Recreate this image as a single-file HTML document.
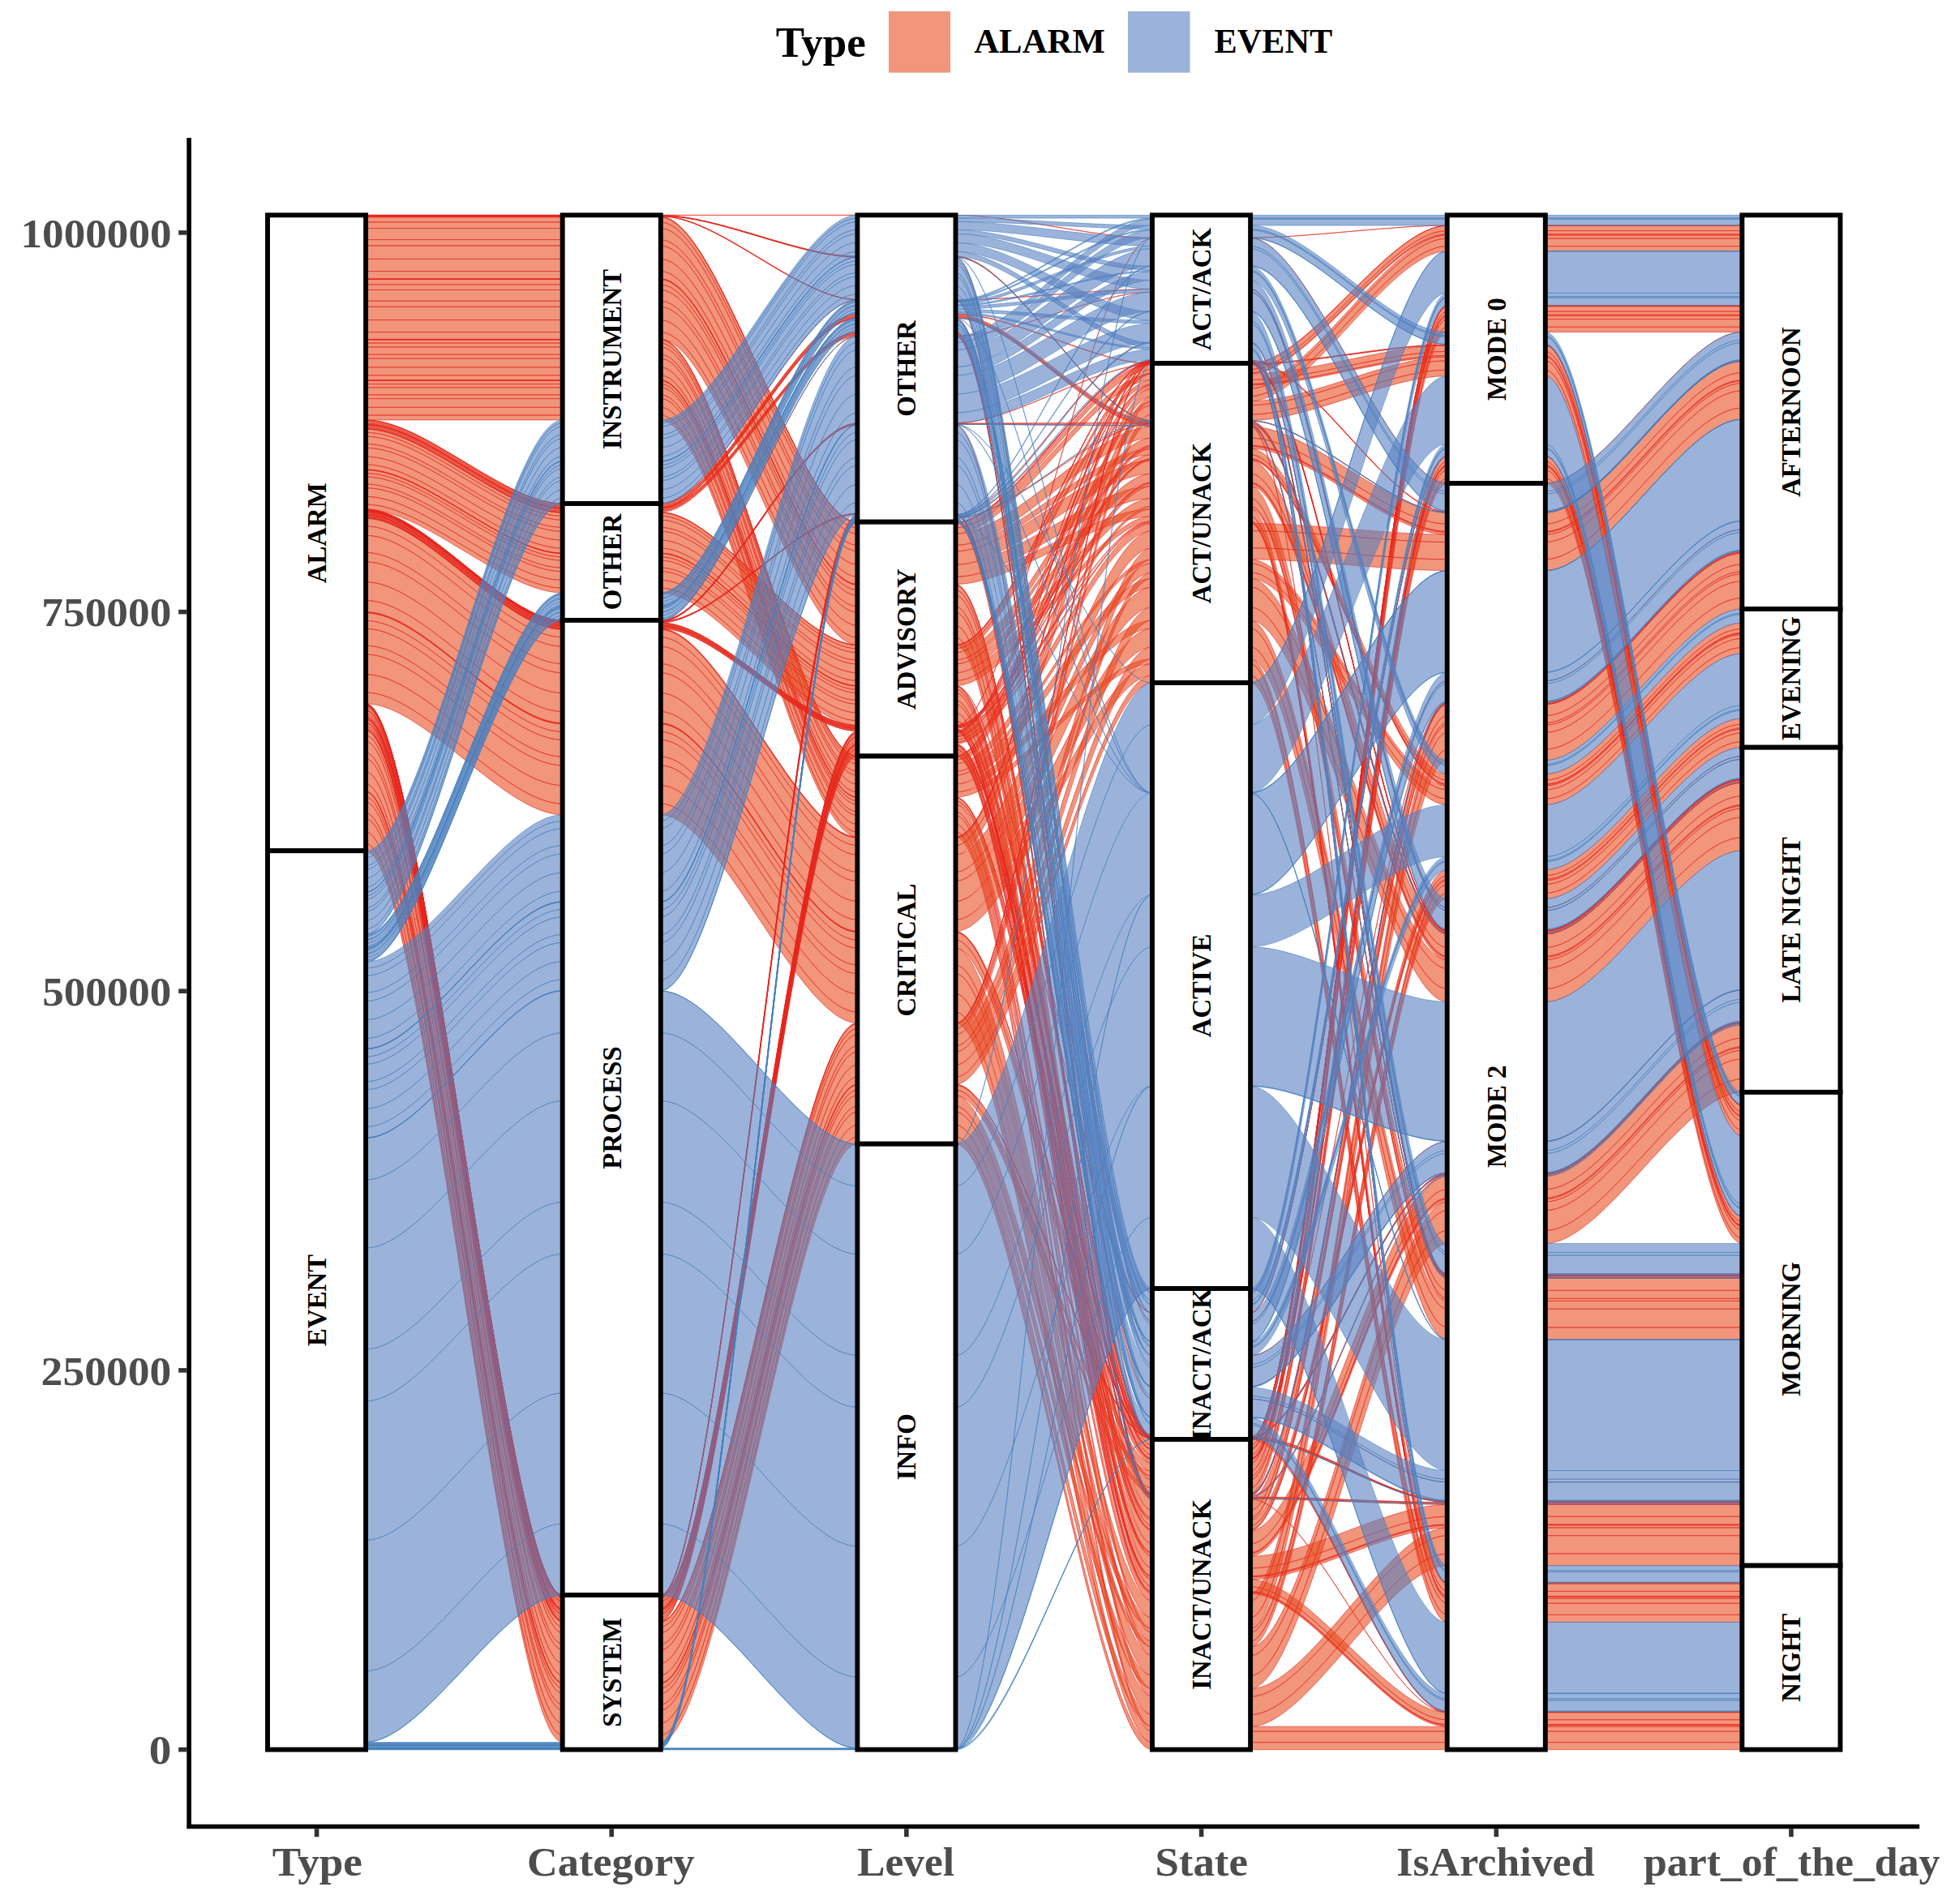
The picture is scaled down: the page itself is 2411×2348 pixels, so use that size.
<!DOCTYPE html>
<html><head><meta charset="utf-8"><title>Alluvial plot</title>
<style>
html,body{margin:0;padding:0;background:#fff;}
svg{display:block;}
text{font-family:"Liberation Serif","Times New Roman",serif;font-weight:bold;}
.a{fill:#E84E23;fill-opacity:0.6;stroke:#E6241D;stroke-width:0.6;stroke-linejoin:round;}
.e{fill:#5880C1;fill-opacity:0.6;stroke:#4682BE;stroke-width:0.6;stroke-linejoin:round;}
.s{fill:#fff;stroke:#000;stroke-width:5.9;stroke-linejoin:miter;}
.sl{font-size:32.8px;fill:#000;text-anchor:middle;}
.ax{font-size:50px;fill:#4D4D4D;}
.tk{stroke:#333;stroke-width:5.6;}
</style></head><body>
<svg width="2411" height="2348" viewBox="0 0 2411 2348">
<rect width="2411" height="2348" fill="#fff"/>
<g class="a"><path d="M451.1 265.3H693.7H814.8H1057.4H1178.5C1250 265.3 1349.5 293.5 1421 293.5H1542.1C1613.7 293.5 1713.2 596 1784.7 596H1905.8C1977.4 596 2076.8 409.4 2148.4 409.4V409.4C2076.8 409.4 1977.4 596 1905.8 596H1784.7C1713.2 596 1613.7 293.5 1542.1 293.5H1421C1349.5 293.5 1250 265.3 1178.5 265.3H1057.4H814.8H693.7H451.1Z"/><path d="M451.1 265.3H693.7H814.8C886.3 265.3 985.8 316.1 1057.4 316.1H1178.5C1250 316.1 1349.5 518.5 1421 518.5H1542.1C1613.7 518.5 1713.2 631.6 1784.7 631.6H1905.8C1977.4 631.6 2076.8 445 2148.4 445V445.4C2076.8 445.4 1977.4 631.9 1905.8 631.9H1784.7C1713.2 631.9 1613.7 518.9 1542.1 518.9H1421C1349.5 518.9 1250 316.5 1178.5 316.5H1057.4C985.8 316.5 886.3 265.7 814.8 265.7H693.7H451.1Z"/><path d="M451.1 265.7H693.7H814.8C886.3 265.7 985.8 316.5 1057.4 316.5H1178.5C1250 316.5 1349.5 519 1421 519H1542.1C1613.7 519 1713.2 1148.4 1784.7 1148.4H1905.8C1977.4 1148.4 2076.8 961.9 2148.4 961.9V962.3C2076.8 962.3 1977.4 1148.9 1905.8 1148.9H1784.7C1713.2 1148.9 1613.7 519.5 1542.1 519.5H1421C1349.5 519.5 1250 317 1178.5 317H1057.4C985.8 317 886.3 266.1 814.8 266.1H693.7H451.1Z"/><path d="M451.1 266.1H693.7H814.8C886.3 266.1 985.8 317.3 1057.4 317.3H1178.5C1250 317.3 1349.5 1671.7 1421 1671.7H1542.1C1613.7 1671.7 1713.2 1407.7 1784.7 1407.7H1905.8C1977.4 1407.7 2076.8 1221.1 2148.4 1221.1V1221.1C2076.8 1221.1 1977.4 1407.7 1905.8 1407.7H1784.7C1713.2 1407.7 1613.7 1671.7 1542.1 1671.7H1421C1349.5 1671.7 1250 317.3 1178.5 317.3H1057.4C985.8 317.3 886.3 266.1 814.8 266.1H693.7H451.1Z"/><path d="M451.1 266.1H693.7H814.8C886.3 266.1 985.8 369.1 1057.4 369.1H1178.5C1250 369.1 1349.5 1845.9 1421 1845.9H1542.1C1613.7 1845.9 1713.2 1852.6 1784.7 1852.6H1905.8H2148.4V1853.1H1905.8H1784.7C1713.2 1853.1 1613.7 1846.4 1542.1 1846.4H1421C1349.5 1846.4 1250 369.6 1178.5 369.6H1057.4C985.8 369.6 886.3 266.6 814.8 266.6H693.7H451.1Z"/><path d="M451.1 266.6H693.7H814.8C886.3 266.6 985.8 369.6 1057.4 369.6H1178.5C1250 369.6 1349.5 1848.6 1421 1848.6H1542.1C1613.7 1848.6 1713.2 2111.5 1784.7 2111.5H1905.8H2148.4V2111.8H1905.8H1784.7C1713.2 2111.8 1613.7 1848.9 1542.1 1848.9H1421C1349.5 1848.9 1250 369.9 1178.5 369.9H1057.4C985.8 369.9 886.3 267 814.8 267H693.7H451.1Z"/><path d="M451.1 267H693.7H814.8C886.3 267 985.8 643.7 1057.4 643.7H1178.5C1250 643.7 1349.5 444.5 1421 444.5H1542.1C1613.7 444.5 1713.2 1572.1 1784.7 1572.1H1905.8H2148.4V1572.6H1905.8H1784.7C1713.2 1572.6 1613.7 445 1542.1 445H1421C1349.5 445 1250 644.2 1178.5 644.2H1057.4C985.8 644.2 886.3 267.5 814.8 267.5H693.7H451.1Z"/><path d="M451.1 267.5H693.7H814.8C886.3 267.5 985.8 644.2 1057.4 644.2H1178.5C1250 644.2 1349.5 445.2 1421 445.2H1542.1C1613.7 445.2 1713.2 1951.8 1784.7 1951.8H1905.8H2148.4V1952.1H1905.8H1784.7C1713.2 1952.1 1613.7 445.5 1542.1 445.5H1421C1349.5 445.5 1250 644.5 1178.5 644.5H1057.4C985.8 644.5 886.3 267.7 814.8 267.7H693.7H451.1Z"/><path d="M451.1 267.7H693.7H814.8C886.3 267.7 985.8 644.5 1057.4 644.5H1178.5C1250 644.5 1349.5 449.3 1421 449.3H1542.1C1613.7 449.3 1713.2 278.3 1784.7 278.3H1905.8H2148.4V284.6H1905.8H1784.7C1713.2 284.6 1613.7 455.6 1542.1 455.6H1421C1349.5 455.6 1250 650.8 1178.5 650.8H1057.4C985.8 650.8 886.3 274 814.8 274H693.7H451.1Z"/><path d="M451.1 274H693.7H814.8C886.3 274 985.8 650.8 1057.4 650.8H1178.5C1250 650.8 1349.5 461 1421 461H1542.1C1613.7 461 1713.2 425.9 1784.7 425.9H1905.8C1977.4 425.9 2076.8 1363.4 2148.4 1363.4V1370.9C2076.8 1370.9 1977.4 433.4 1905.8 433.4H1784.7C1713.2 433.4 1613.7 468.5 1542.1 468.5H1421C1349.5 468.5 1250 658.3 1178.5 658.3H1057.4C985.8 658.3 886.3 281.5 814.8 281.5H693.7H451.1Z"/><path d="M451.1 281.5H693.7H814.8C886.3 281.5 985.8 658.3 1057.4 658.3H1178.5C1250 658.3 1349.5 526.1 1421 526.1H1542.1C1613.7 526.1 1713.2 632.1 1784.7 632.1H1905.8C1977.4 632.1 2076.8 445.5 2148.4 445.5V459.6C2076.8 459.6 1977.4 646.1 1905.8 646.1H1784.7C1713.2 646.1 1613.7 540.1 1542.1 540.1H1421C1349.5 540.1 1250 672.4 1178.5 672.4H1057.4C985.8 672.4 886.3 295.6 814.8 295.6H693.7H451.1Z"/><path d="M451.1 295.6H693.7H814.8C886.3 295.6 985.8 672.4 1057.4 672.4H1178.5C1250 672.4 1349.5 553.2 1421 553.2H1542.1C1613.7 553.2 1713.2 954.6 1784.7 954.6H1905.8C1977.4 954.6 2076.8 768.1 2148.4 768.1V775.5C2076.8 775.5 1977.4 962.1 1905.8 962.1H1784.7C1713.2 962.1 1613.7 560.7 1542.1 560.7H1421C1349.5 560.7 1250 679.8 1178.5 679.8H1057.4C985.8 679.8 886.3 303 814.8 303H693.7H451.1Z"/><path d="M451.1 303H693.7H814.8C886.3 303 985.8 679.8 1057.4 679.8H1178.5C1250 679.8 1349.5 567.6 1421 567.6H1542.1C1613.7 567.6 1713.2 1151.9 1784.7 1151.9H1905.8C1977.4 1151.9 2076.8 965.4 2148.4 965.4V981.8C2076.8 981.8 1977.4 1168.4 1905.8 1168.4H1784.7C1713.2 1168.4 1613.7 584.1 1542.1 584.1H1421C1349.5 584.1 1250 696.2 1178.5 696.2H1057.4C985.8 696.2 886.3 319.4 814.8 319.4H693.7H451.1Z"/><path d="M451.1 319.4H693.7H814.8C886.3 319.4 985.8 696.2 1057.4 696.2H1178.5C1250 696.2 1349.5 599.4 1421 599.4H1542.1C1613.7 599.4 1713.2 1576.3 1784.7 1576.3H1905.8H2148.4V1591.4H1905.8H1784.7C1713.2 1591.4 1613.7 614.5 1542.1 614.5H1421C1349.5 614.5 1250 711.3 1178.5 711.3H1057.4C985.8 711.3 886.3 334.5 814.8 334.5H693.7H451.1Z"/><path d="M451.1 334.5H693.7H814.8C886.3 334.5 985.8 711.3 1057.4 711.3H1178.5C1250 711.3 1349.5 627.4 1421 627.4H1542.1C1613.7 627.4 1713.2 1953.1 1784.7 1953.1H1905.8H2148.4V1962.4H1905.8H1784.7C1713.2 1962.4 1613.7 636.7 1542.1 636.7H1421C1349.5 636.7 1250 720.6 1178.5 720.6H1057.4C985.8 720.6 886.3 343.8 814.8 343.8H693.7H451.1Z"/><path d="M451.1 343.8H693.7H814.8C886.3 343.8 985.8 720.6 1057.4 720.6H1178.5C1250 720.6 1349.5 1771 1421 1771H1542.1C1613.7 1771 1713.2 865.7 1784.7 865.7H1905.8C1977.4 865.7 2076.8 679.2 2148.4 679.2V679.6C2076.8 679.6 1977.4 866.1 1905.8 866.1H1784.7C1713.2 866.1 1613.7 1771.3 1542.1 1771.3H1421C1349.5 1771.3 1250 721 1178.5 721H1057.4C985.8 721 886.3 344.2 814.8 344.2H693.7H451.1Z"/><path d="M451.1 344.2H693.7H814.8C886.3 344.2 985.8 721 1057.4 721H1178.5C1250 721 1349.5 1771.3 1421 1771.3H1542.1C1613.7 1771.3 1713.2 1851.1 1784.7 1851.1H1905.8H2148.4V1851.5H1905.8H1784.7C1713.2 1851.5 1613.7 1771.7 1542.1 1771.7H1421C1349.5 1771.7 1250 721.4 1178.5 721.4H1057.4C985.8 721.4 886.3 344.6 814.8 344.6H693.7H451.1Z"/><path d="M451.1 344.6H693.7H814.8C886.3 344.6 985.8 721.4 1057.4 721.4H1178.5C1250 721.4 1349.5 1776.2 1421 1776.2H1542.1C1613.7 1776.2 1713.2 377.7 1784.7 377.7H1905.8H2148.4V384H1905.8H1784.7C1713.2 384 1613.7 1782.5 1542.1 1782.5H1421C1349.5 1782.5 1250 727.7 1178.5 727.7H1057.4C985.8 727.7 886.3 350.9 814.8 350.9H693.7H451.1Z"/><path d="M451.1 350.9H693.7H814.8C886.3 350.9 985.8 727.7 1057.4 727.7H1178.5C1250 727.7 1349.5 1787.9 1421 1787.9H1542.1C1613.7 1787.9 1713.2 562.6 1784.7 562.6H1905.8C1977.4 562.6 2076.8 1500 2148.4 1500V1506.6C2076.8 1506.6 1977.4 569.1 1905.8 569.1H1784.7C1713.2 569.1 1613.7 1794.5 1542.1 1794.5H1421C1349.5 1794.5 1250 734.3 1178.5 734.3H1057.4C985.8 734.3 886.3 357.5 814.8 357.5H693.7H451.1Z"/><path d="M451.1 357.5H693.7H814.8C886.3 357.5 985.8 734.3 1057.4 734.3H1178.5C1250 734.3 1349.5 1848.9 1421 1848.9H1542.1C1613.7 1848.9 1713.2 868.7 1784.7 868.7H1905.8C1977.4 868.7 2076.8 682.2 2148.4 682.2V695.9C2076.8 695.9 1977.4 882.5 1905.8 882.5H1784.7C1713.2 882.5 1613.7 1862.6 1542.1 1862.6H1421C1349.5 1862.6 1250 748 1178.5 748H1057.4C985.8 748 886.3 371.2 814.8 371.2H693.7H451.1Z"/><path d="M451.1 371.2H693.7H814.8C886.3 371.2 985.8 748 1057.4 748H1178.5C1250 748 1349.5 1874.4 1421 1874.4H1542.1C1613.7 1874.4 1713.2 1072.6 1784.7 1072.6H1905.8C1977.4 1072.6 2076.8 886 2148.4 886V893.1C2076.8 893.1 1977.4 1079.7 1905.8 1079.7H1784.7C1713.2 1079.7 1613.7 1881.5 1542.1 1881.5H1421C1349.5 1881.5 1250 755.1 1178.5 755.1H1057.4C985.8 755.1 886.3 378.3 814.8 378.3H693.7H451.1Z"/><path d="M451.1 378.3H693.7H814.8C886.3 378.3 985.8 755.1 1057.4 755.1H1178.5C1250 755.1 1349.5 1887.6 1421 1887.6H1542.1C1613.7 1887.6 1713.2 1450.4 1784.7 1450.4H1905.8C1977.4 1450.4 2076.8 1263.9 2148.4 1263.9V1280.2C2076.8 1280.2 1977.4 1466.7 1905.8 1466.7H1784.7C1713.2 1466.7 1613.7 1903.9 1542.1 1903.9H1421C1349.5 1903.9 1250 771.4 1178.5 771.4H1057.4C985.8 771.4 886.3 394.6 814.8 394.6H693.7H451.1Z"/><path d="M451.1 394.6H693.7H814.8C886.3 394.6 985.8 771.4 1057.4 771.4H1178.5C1250 771.4 1349.5 1919.2 1421 1919.2H1542.1C1613.7 1919.2 1713.2 1855.3 1784.7 1855.3H1905.8H2148.4V1870.1H1905.8H1784.7C1713.2 1870.1 1613.7 1934 1542.1 1934H1421C1349.5 1934 1250 786.2 1178.5 786.2H1057.4C985.8 786.2 886.3 409.5 814.8 409.5H693.7H451.1Z"/><path d="M451.1 409.5H693.7H814.8C886.3 409.5 985.8 786.2 1057.4 786.2H1178.5C1250 786.2 1349.5 1947.8 1421 1947.8H1542.1C1613.7 1947.8 1713.2 2111.8 1784.7 2111.8H1905.8H2148.4V2120.8H1905.8H1784.7C1713.2 2120.8 1613.7 1956.8 1542.1 1956.8H1421C1349.5 1956.8 1250 795.2 1178.5 795.2H1057.4C985.8 795.2 886.3 418.4 814.8 418.4H693.7H451.1Z"/><path d="M451.1 418.4H693.7H814.8C886.3 418.4 985.8 932.5 1057.4 932.5H1178.5C1250 932.5 1349.5 445.5 1421 445.5H1542.1C1613.7 445.5 1713.2 631.3 1784.7 631.3H1905.8C1977.4 631.3 2076.8 444.8 2148.4 444.8V445C2076.8 445 1977.4 631.6 1905.8 631.6H1784.7C1713.2 631.6 1613.7 445.8 1542.1 445.8H1421C1349.5 445.8 1250 932.8 1178.5 932.8H1057.4C985.8 932.8 886.3 418.7 814.8 418.7H693.7H451.1Z"/><path d="M451.1 418.7H693.7H814.8C886.3 418.7 985.8 932.8 1057.4 932.8H1178.5C1250 932.8 1349.5 445.8 1421 445.8H1542.1C1613.7 445.8 1713.2 1147.2 1784.7 1147.2H1905.8C1977.4 1147.2 2076.8 960.6 2148.4 960.6V960.9C2076.8 960.9 1977.4 1147.5 1905.8 1147.5H1784.7C1713.2 1147.5 1613.7 446 1542.1 446H1421C1349.5 446 1250 933 1178.5 933H1057.4C985.8 933 886.3 419 814.8 419H693.7H451.1Z"/><path d="M451.1 419H693.7H814.8C886.3 419 985.8 933 1057.4 933H1178.5C1250 933 1349.5 475 1421 475H1542.1C1613.7 475 1713.2 290 1784.7 290H1905.8H2148.4V294.1H1905.8H1784.7C1713.2 294.1 1613.7 479.1 1542.1 479.1H1421C1349.5 479.1 1250 937.2 1178.5 937.2H1057.4C985.8 937.2 886.3 423.1 814.8 423.1H693.7H451.1Z"/><path d="M451.1 423.1H693.7H814.8C886.3 423.1 985.8 937.2 1057.4 937.2H1178.5C1250 937.2 1349.5 494.8 1421 494.8H1542.1C1613.7 494.8 1713.2 439.9 1784.7 439.9H1905.8C1977.4 439.9 2076.8 1377.3 2148.4 1377.3V1382.3C2076.8 1382.3 1977.4 444.8 1905.8 444.8H1784.7C1713.2 444.8 1613.7 499.7 1542.1 499.7H1421C1349.5 499.7 1250 942.1 1178.5 942.1H1057.4C985.8 942.1 886.3 428 814.8 428H693.7H451.1Z"/><path d="M451.1 428H693.7H814.8C886.3 428 985.8 942.1 1057.4 942.1H1178.5C1250 942.1 1349.5 645.4 1421 645.4H1542.1C1613.7 645.4 1713.2 659.2 1784.7 659.2H1905.8C1977.4 659.2 2076.8 472.7 2148.4 472.7V481.9C2076.8 481.9 1977.4 668.5 1905.8 668.5H1784.7C1713.2 668.5 1613.7 654.6 1542.1 654.6H1421C1349.5 654.6 1250 951.3 1178.5 951.3H1057.4C985.8 951.3 886.3 437.2 814.8 437.2H693.7H451.1Z"/><path d="M451.1 437.2H693.7H814.8C886.3 437.2 985.8 951.3 1057.4 951.3H1178.5C1250 951.3 1349.5 689.8 1421 689.8H1542.1C1613.7 689.8 1713.2 969 1784.7 969H1905.8C1977.4 969 2076.8 782.5 2148.4 782.5V787.4C2076.8 787.4 1977.4 973.9 1905.8 973.9H1784.7C1713.2 973.9 1613.7 694.6 1542.1 694.6H1421C1349.5 694.6 1250 956.2 1178.5 956.2H1057.4C985.8 956.2 886.3 442.1 814.8 442.1H693.7H451.1Z"/><path d="M451.1 442.1H693.7H814.8C886.3 442.1 985.8 956.2 1057.4 956.2H1178.5C1250 956.2 1349.5 713.2 1421 713.2H1542.1C1613.7 713.2 1713.2 1183.7 1784.7 1183.7H1905.8C1977.4 1183.7 2076.8 997.1 2148.4 997.1V1007.9C2076.8 1007.9 1977.4 1194.5 1905.8 1194.5H1784.7C1713.2 1194.5 1613.7 724 1542.1 724H1421C1349.5 724 1250 967 1178.5 967H1057.4C985.8 967 886.3 452.9 814.8 452.9H693.7H451.1Z"/><path d="M451.1 452.9H693.7H814.8C886.3 452.9 985.8 967 1057.4 967H1178.5C1250 967 1349.5 765.1 1421 765.1H1542.1C1613.7 765.1 1713.2 1604.3 1784.7 1604.3H1905.8H2148.4V1614.2H1905.8H1784.7C1713.2 1614.2 1613.7 775 1542.1 775H1421C1349.5 775 1250 976.9 1178.5 976.9H1057.4C985.8 976.9 886.3 462.8 814.8 462.8H693.7H451.1Z"/><path d="M451.1 462.8H693.7H814.8C886.3 462.8 985.8 976.9 1057.4 976.9H1178.5C1250 976.9 1349.5 812.6 1421 812.6H1542.1C1613.7 812.6 1713.2 1971.1 1784.7 1971.1H1905.8H2148.4V1977.2H1905.8H1784.7C1713.2 1977.2 1613.7 818.7 1542.1 818.7H1421C1349.5 818.7 1250 983 1178.5 983H1057.4C985.8 983 886.3 468.9 814.8 468.9H693.7H451.1Z"/><path d="M451.1 468.9H693.7H814.8C886.3 468.9 985.8 983 1057.4 983H1178.5C1250 983 1349.5 1772.2 1421 1772.2H1542.1C1613.7 1772.2 1713.2 1447.1 1784.7 1447.1H1905.8C1977.4 1447.1 2076.8 1260.5 2148.4 1260.5V1260.8C2076.8 1260.8 1977.4 1447.4 1905.8 1447.4H1784.7C1713.2 1447.4 1613.7 1772.5 1542.1 1772.5H1421C1349.5 1772.5 1250 983.2 1178.5 983.2H1057.4C985.8 983.2 886.3 469.2 814.8 469.2H693.7H451.1Z"/><path d="M451.1 469.2H693.7H814.8C886.3 469.2 985.8 983.2 1057.4 983.2H1178.5C1250 983.2 1349.5 1773.6 1421 1773.6H1542.1C1613.7 1773.6 1713.2 1851.7 1784.7 1851.7H1905.8H2148.4V1851.9H1905.8H1784.7C1713.2 1851.9 1613.7 1773.9 1542.1 1773.9H1421C1349.5 1773.9 1250 983.5 1178.5 983.5H1057.4C985.8 983.5 886.3 469.4 814.8 469.4H693.7H451.1Z"/><path d="M451.1 469.4H693.7H814.8C886.3 469.4 985.8 983.5 1057.4 983.5H1178.5C1250 983.5 1349.5 1800.6 1421 1800.6H1542.1C1613.7 1800.6 1713.2 389.4 1784.7 389.4H1905.8H2148.4V393.6H1905.8H1784.7C1713.2 393.6 1613.7 1804.8 1542.1 1804.8H1421C1349.5 1804.8 1250 987.7 1178.5 987.7H1057.4C985.8 987.7 886.3 473.6 814.8 473.6H693.7H451.1Z"/><path d="M451.1 473.6H693.7H814.8C886.3 473.6 985.8 987.7 1057.4 987.7H1178.5C1250 987.7 1349.5 1820.6 1421 1820.6H1542.1C1613.7 1820.6 1713.2 575.3 1784.7 575.3H1905.8C1977.4 575.3 2076.8 1512.7 2148.4 1512.7V1517C2076.8 1517 1977.4 579.6 1905.8 579.6H1784.7C1713.2 579.6 1613.7 1824.9 1542.1 1824.9H1421C1349.5 1824.9 1250 992 1178.5 992H1057.4C985.8 992 886.3 477.9 814.8 477.9H693.7H451.1Z"/><path d="M451.1 477.9H693.7H814.8C886.3 477.9 985.8 992 1057.4 992H1178.5C1250 992 1349.5 1965.2 1421 1965.2H1542.1C1613.7 1965.2 1713.2 894.2 1784.7 894.2H1905.8C1977.4 894.2 2076.8 707.7 2148.4 707.7V716.7C2076.8 716.7 1977.4 903.3 1905.8 903.3H1784.7C1713.2 903.3 1613.7 1974.2 1542.1 1974.2H1421C1349.5 1974.2 1250 1001 1178.5 1001H1057.4C985.8 1001 886.3 486.9 814.8 486.9H693.7H451.1Z"/><path d="M451.1 486.9H693.7H814.8C886.3 486.9 985.8 1001 1057.4 1001H1178.5C1250 1001 1349.5 2008.5 1421 2008.5H1542.1C1613.7 2008.5 1713.2 1085.8 1784.7 1085.8H1905.8C1977.4 1085.8 2076.8 899.2 2148.4 899.2V903.9C2076.8 903.9 1977.4 1090.5 1905.8 1090.5H1784.7C1713.2 1090.5 1613.7 2013.2 1542.1 2013.2H1421C1349.5 2013.2 1250 1005.6 1178.5 1005.6H1057.4C985.8 1005.6 886.3 491.6 814.8 491.6H693.7H451.1Z"/><path d="M451.1 491.6H693.7H814.8C886.3 491.6 985.8 1005.6 1057.4 1005.6H1178.5C1250 1005.6 1349.5 2031 1421 2031H1542.1C1613.7 2031 1713.2 1482 1784.7 1482H1905.8C1977.4 1482 2076.8 1295.4 2148.4 1295.4V1306.1C2076.8 1306.1 1977.4 1492.7 1905.8 1492.7H1784.7C1713.2 1492.7 1613.7 2041.7 1542.1 2041.7H1421C1349.5 2041.7 1250 1016.4 1178.5 1016.4H1057.4C985.8 1016.4 886.3 502.3 814.8 502.3H693.7H451.1Z"/><path d="M451.1 502.3H693.7H814.8C886.3 502.3 985.8 1016.4 1057.4 1016.4H1178.5C1250 1016.4 1349.5 2082.5 1421 2082.5H1542.1C1613.7 2082.5 1713.2 1883.9 1784.7 1883.9H1905.8H2148.4V1893.7H1905.8H1784.7C1713.2 1893.7 1613.7 2092.2 1542.1 2092.2H1421C1349.5 2092.2 1250 1026.1 1178.5 1026.1H1057.4C985.8 1026.1 886.3 512 814.8 512H693.7H451.1Z"/><path d="M451.1 512H693.7H814.8C886.3 512 985.8 1026.1 1057.4 1026.1H1178.5C1250 1026.1 1349.5 2129.2 1421 2129.2H1542.1H1784.7H1905.8H2148.4V2135.1H1905.8H1784.7H1542.1H1421C1349.5 2135.1 1250 1032 1178.5 1032H1057.4C985.8 1032 886.3 517.9 814.8 517.9H693.7H451.1Z"/><path d="M451.1 517.9C522.7 517.9 622.1 621 693.7 621H814.8C886.3 621 985.8 370 1057.4 370H1178.5C1250 370 1349.5 356.6 1421 356.6H1542.1C1613.7 356.6 1713.2 1119.2 1784.7 1119.2H1905.8C1977.4 1119.2 2076.8 932.7 2148.4 932.7V932.7C2076.8 932.7 1977.4 1119.3 1905.8 1119.3H1784.7C1713.2 1119.3 1613.7 356.6 1542.1 356.6H1421C1349.5 356.6 1250 370 1178.5 370H1057.4C985.8 370 886.3 621 814.8 621H693.7C622.1 621 522.7 518 451.1 518Z"/><path d="M451.1 518C522.7 518 622.1 621 693.7 621H814.8C886.3 621 985.8 386.8 1057.4 386.8H1178.5C1250 386.8 1349.5 448.2 1421 448.2H1542.1C1613.7 448.2 1713.2 424.8 1784.7 424.8H1905.8C1977.4 424.8 2076.8 1362.3 2148.4 1362.3V1363.1C2076.8 1363.1 1977.4 425.6 1905.8 425.6H1784.7C1713.2 425.6 1613.7 449 1542.1 449H1421C1349.5 449 1250 387.6 1178.5 387.6H1057.4C985.8 387.6 886.3 621.8 814.8 621.8H693.7C622.1 621.8 522.7 518.8 451.1 518.8Z"/><path d="M451.1 518.8C522.7 518.8 622.1 621.8 693.7 621.8H814.8C886.3 621.8 985.8 387.6 1057.4 387.6H1178.5C1250 387.6 1349.5 519.5 1421 519.5H1542.1C1613.7 519.5 1713.2 1148.9 1784.7 1148.9H1905.8C1977.4 1148.9 2076.8 962.3 2148.4 962.3V964.2C2076.8 964.2 1977.4 1150.7 1905.8 1150.7H1784.7C1713.2 1150.7 1613.7 521.3 1542.1 521.3H1421C1349.5 521.3 1250 389.4 1178.5 389.4H1057.4C985.8 389.4 886.3 623.7 814.8 623.7H693.7C622.1 623.7 522.7 520.6 451.1 520.6Z"/><path d="M451.1 520.6C522.7 520.6 622.1 623.7 693.7 623.7H814.8C886.3 623.7 985.8 389.4 1057.4 389.4H1178.5C1250 389.4 1349.5 522.5 1421 522.5H1542.1C1613.7 522.5 1713.2 1573.8 1784.7 1573.8H1905.8H2148.4V1575.5H1905.8H1784.7C1713.2 1575.5 1613.7 524.2 1542.1 524.2H1421C1349.5 524.2 1250 391.1 1178.5 391.1H1057.4C985.8 391.1 886.3 625.4 814.8 625.4H693.7C622.1 625.4 522.7 522.3 451.1 522.3Z"/><path d="M451.1 522.3C522.7 522.3 622.1 625.4 693.7 625.4H814.8C886.3 625.4 985.8 391.1 1057.4 391.1H1178.5C1250 391.1 1349.5 525 1421 525H1542.1C1613.7 525 1713.2 1952.1 1784.7 1952.1H1905.8H2148.4V1953.1H1905.8H1784.7C1713.2 1953.1 1613.7 526.1 1542.1 526.1H1421C1349.5 526.1 1250 392.1 1178.5 392.1H1057.4C985.8 392.1 886.3 626.4 814.8 626.4H693.7C622.1 626.4 522.7 523.4 451.1 523.4Z"/><path d="M451.1 523.4C522.7 523.4 622.1 626.4 693.7 626.4H814.8C886.3 626.4 985.8 392.2 1057.4 392.2H1178.5C1250 392.2 1349.5 1629.4 1421 1629.4H1542.1C1613.7 1629.4 1713.2 839.6 1784.7 839.6H1905.8C1977.4 839.6 2076.8 653 2148.4 653V653.1C2076.8 653.1 1977.4 839.7 1905.8 839.7H1784.7C1713.2 839.7 1613.7 1629.5 1542.1 1629.5H1421C1349.5 1629.5 1250 392.3 1178.5 392.3H1057.4C985.8 392.3 886.3 626.4 814.8 626.4H693.7C622.1 626.4 522.7 523.4 451.1 523.4Z"/><path d="M451.1 523.4C522.7 523.4 622.1 626.4 693.7 626.4H814.8C886.3 626.4 985.8 409.3 1057.4 409.3H1178.5C1250 409.3 1349.5 1775 1421 1775H1542.1C1613.7 1775 1713.2 376.5 1784.7 376.5H1905.8H2148.4V377.2H1905.8H1784.7C1713.2 377.2 1613.7 1775.6 1542.1 1775.6H1421C1349.5 1775.6 1250 410 1178.5 410H1057.4C985.8 410 886.3 627.1 814.8 627.1H693.7C622.1 627.1 522.7 524.1 451.1 524.1Z"/><path d="M451.1 524.1C522.7 524.1 622.1 627.1 693.7 627.1H814.8C886.3 627.1 985.8 410 1057.4 410H1178.5C1250 410 1349.5 1841.5 1421 1841.5H1542.1C1613.7 1841.5 1713.2 866.2 1784.7 866.2H1905.8C1977.4 866.2 2076.8 679.7 2148.4 679.7V681.1C2076.8 681.1 1977.4 867.6 1905.8 867.6H1784.7C1713.2 867.6 1613.7 1842.9 1542.1 1842.9H1421C1349.5 1842.9 1250 411.4 1178.5 411.4H1057.4C985.8 411.4 886.3 628.5 814.8 628.5H693.7C622.1 628.5 522.7 525.5 451.1 525.5Z"/><path d="M451.1 525.5C522.7 525.5 622.1 628.5 693.7 628.5H814.8C886.3 628.5 985.8 411.4 1057.4 411.4H1178.5C1250 411.4 1349.5 1844 1421 1844H1542.1C1613.7 1844 1713.2 1448.5 1784.7 1448.5H1905.8C1977.4 1448.5 2076.8 1261.9 2148.4 1261.9V1263.6C2076.8 1263.6 1977.4 1450.2 1905.8 1450.2H1784.7C1713.2 1450.2 1613.7 1845.6 1542.1 1845.6H1421C1349.5 1845.6 1250 413 1178.5 413H1057.4C985.8 413 886.3 630.2 814.8 630.2H693.7C622.1 630.2 522.7 527.1 451.1 527.1Z"/><path d="M451.1 527.1C522.7 527.1 622.1 630.2 693.7 630.2H814.8C886.3 630.2 985.8 413 1057.4 413H1178.5C1250 413 1349.5 1846.4 1421 1846.4H1542.1C1613.7 1846.4 1713.2 1853.1 1784.7 1853.1H1905.8H2148.4V1854.6H1905.8H1784.7C1713.2 1854.6 1613.7 1847.9 1542.1 1847.9H1421C1349.5 1847.9 1250 414.6 1178.5 414.6H1057.4C985.8 414.6 886.3 631.7 814.8 631.7H693.7C622.1 631.7 522.7 528.6 451.1 528.6Z"/><path d="M451.1 528.6C522.7 528.6 622.1 631.7 693.7 631.7H814.8C886.3 631.7 985.8 795.2 1057.4 795.2H1178.5C1250 795.2 1349.5 444.1 1421 444.1H1542.1C1613.7 444.1 1713.2 631.1 1784.7 631.1H1905.8C1977.4 631.1 2076.8 444.5 2148.4 444.5V444.8C2076.8 444.8 1977.4 631.3 1905.8 631.3H1784.7C1713.2 631.3 1613.7 444.3 1542.1 444.3H1421C1349.5 444.3 1250 795.5 1178.5 795.5H1057.4C985.8 795.5 886.3 631.9 814.8 631.9H693.7C622.1 631.9 522.7 528.9 451.1 528.9Z"/><path d="M451.1 528.9C522.7 528.9 622.1 631.9 693.7 631.9H814.8C886.3 631.9 985.8 795.5 1057.4 795.5H1178.5C1250 795.5 1349.5 445 1421 445H1542.1C1613.7 445 1713.2 1572.6 1784.7 1572.6H1905.8H2148.4V1572.8H1905.8H1784.7C1713.2 1572.8 1613.7 445.2 1542.1 445.2H1421C1349.5 445.2 1250 795.7 1178.5 795.7H1057.4C985.8 795.7 886.3 632.2 814.8 632.2H693.7C622.1 632.2 522.7 529.2 451.1 529.2Z"/><path d="M451.1 529.2C522.7 529.2 622.1 632.2 693.7 632.2H814.8C886.3 632.2 985.8 795.7 1057.4 795.7H1178.5C1250 795.7 1349.5 455.6 1421 455.6H1542.1C1613.7 455.6 1713.2 284.6 1784.7 284.6H1905.8H2148.4V288.7H1905.8H1784.7C1713.2 288.7 1613.7 459.7 1542.1 459.7H1421C1349.5 459.7 1250 799.9 1178.5 799.9H1057.4C985.8 799.9 886.3 636.3 814.8 636.3H693.7C622.1 636.3 522.7 533.3 451.1 533.3Z"/><path d="M451.1 533.3C522.7 533.3 622.1 636.3 693.7 636.3H814.8C886.3 636.3 985.8 799.9 1057.4 799.9H1178.5C1250 799.9 1349.5 468.5 1421 468.5H1542.1C1613.7 468.5 1713.2 433.4 1784.7 433.4H1905.8C1977.4 433.4 2076.8 1370.9 2148.4 1370.9V1375.8C2076.8 1375.8 1977.4 438.4 1905.8 438.4H1784.7C1713.2 438.4 1613.7 473.4 1542.1 473.4H1421C1349.5 473.4 1250 804.8 1178.5 804.8H1057.4C985.8 804.8 886.3 641.2 814.8 641.2H693.7C622.1 641.2 522.7 538.2 451.1 538.2Z"/><path d="M451.1 538.2C522.7 538.2 622.1 641.2 693.7 641.2H814.8C886.3 641.2 985.8 804.8 1057.4 804.8H1178.5C1250 804.8 1349.5 540.1 1421 540.1H1542.1C1613.7 540.1 1713.2 646.1 1784.7 646.1H1905.8C1977.4 646.1 2076.8 459.6 2148.4 459.6V468.8C2076.8 468.8 1977.4 655.3 1905.8 655.3H1784.7C1713.2 655.3 1613.7 549.3 1542.1 549.3H1421C1349.5 549.3 1250 814 1178.5 814H1057.4C985.8 814 886.3 650.4 814.8 650.4H693.7C622.1 650.4 522.7 547.4 451.1 547.4Z"/><path d="M451.1 547.4C522.7 547.4 622.1 650.4 693.7 650.4H814.8C886.3 650.4 985.8 814 1057.4 814H1178.5C1250 814 1349.5 560.7 1421 560.7H1542.1C1613.7 560.7 1713.2 962.1 1784.7 962.1H1905.8C1977.4 962.1 2076.8 775.5 2148.4 775.5V780.4C2076.8 780.4 1977.4 967 1905.8 967H1784.7C1713.2 967 1613.7 565.6 1542.1 565.6H1421C1349.5 565.6 1250 818.9 1178.5 818.9H1057.4C985.8 818.9 886.3 655.3 814.8 655.3H693.7C622.1 655.3 522.7 552.3 451.1 552.3Z"/><path d="M451.1 552.3C522.7 552.3 622.1 655.3 693.7 655.3H814.8C886.3 655.3 985.8 818.9 1057.4 818.9H1178.5C1250 818.9 1349.5 584.1 1421 584.1H1542.1C1613.7 584.1 1713.2 1168.4 1784.7 1168.4H1905.8C1977.4 1168.4 2076.8 981.8 2148.4 981.8V992.6C2076.8 992.6 1977.4 1179.1 1905.8 1179.1H1784.7C1713.2 1179.1 1613.7 594.8 1542.1 594.8H1421C1349.5 594.8 1250 829.7 1178.5 829.7H1057.4C985.8 829.7 886.3 666.1 814.8 666.1H693.7C622.1 666.1 522.7 563.1 451.1 563.1Z"/><path d="M451.1 563.1C522.7 563.1 622.1 666.1 693.7 666.1H814.8C886.3 666.1 985.8 829.7 1057.4 829.7H1178.5C1250 829.7 1349.5 614.5 1421 614.5H1542.1C1613.7 614.5 1713.2 1591.4 1784.7 1591.4H1905.8H2148.4V1601.3H1905.8H1784.7C1713.2 1601.3 1613.7 624.3 1542.1 624.3H1421C1349.5 624.3 1250 839.5 1178.5 839.5H1057.4C985.8 839.5 886.3 676 814.8 676H693.7C622.1 676 522.7 572.9 451.1 572.9Z"/><path d="M451.1 572.9C522.7 572.9 622.1 676 693.7 676H814.8C886.3 676 985.8 839.5 1057.4 839.5H1178.5C1250 839.5 1349.5 636.7 1421 636.7H1542.1C1613.7 636.7 1713.2 1962.4 1784.7 1962.4H1905.8H2148.4V1968.5H1905.8H1784.7C1713.2 1968.5 1613.7 642.8 1542.1 642.8H1421C1349.5 642.8 1250 845.6 1178.5 845.6H1057.4C985.8 845.6 886.3 682.1 814.8 682.1H693.7C622.1 682.1 522.7 579 451.1 579Z"/><path d="M451.1 579C522.7 579 622.1 682.1 693.7 682.1H814.8C886.3 682.1 985.8 845.6 1057.4 845.6H1178.5C1250 845.6 1349.5 1618.9 1421 1618.9H1542.1C1613.7 1618.9 1713.2 562.3 1784.7 562.3H1905.8C1977.4 562.3 2076.8 1499.8 2148.4 1499.8V1500C2076.8 1500 1977.4 562.5 1905.8 562.5H1784.7C1713.2 562.5 1613.7 1619.1 1542.1 1619.1H1421C1349.5 1619.1 1250 845.8 1178.5 845.8H1057.4C985.8 845.8 886.3 682.3 814.8 682.3H693.7C622.1 682.3 522.7 579.3 451.1 579.3Z"/><path d="M451.1 579.3C522.7 579.3 622.1 682.3 693.7 682.3H814.8C886.3 682.3 985.8 845.8 1057.4 845.8H1178.5C1250 845.8 1349.5 1771.9 1421 1771.9H1542.1C1613.7 1771.9 1713.2 2110.8 1784.7 2110.8H1905.8H2148.4V2111.1H1905.8H1784.7C1713.2 2111.1 1613.7 1772.2 1542.1 1772.2H1421C1349.5 1772.2 1250 846.2 1178.5 846.2H1057.4C985.8 846.2 886.3 682.6 814.8 682.6H693.7C622.1 682.6 522.7 579.6 451.1 579.6Z"/><path d="M451.1 579.6C522.7 579.6 622.1 682.6 693.7 682.6H814.8C886.3 682.6 985.8 846.2 1057.4 846.2H1178.5C1250 846.2 1349.5 1782.5 1421 1782.5H1542.1C1613.7 1782.5 1713.2 384 1784.7 384H1905.8H2148.4V388.2H1905.8H1784.7C1713.2 388.2 1613.7 1786.6 1542.1 1786.6H1421C1349.5 1786.6 1250 850.3 1178.5 850.3H1057.4C985.8 850.3 886.3 686.8 814.8 686.8H693.7C622.1 686.8 522.7 583.7 451.1 583.7Z"/><path d="M451.1 583.7C522.7 583.7 622.1 686.8 693.7 686.8H814.8C886.3 686.8 985.8 850.3 1057.4 850.3H1178.5C1250 850.3 1349.5 1794.5 1421 1794.5H1542.1C1613.7 1794.5 1713.2 569.1 1784.7 569.1H1905.8C1977.4 569.1 2076.8 1506.6 2148.4 1506.6V1510.9C2076.8 1510.9 1977.4 573.4 1905.8 573.4H1784.7C1713.2 573.4 1613.7 1798.8 1542.1 1798.8H1421C1349.5 1798.8 1250 854.6 1178.5 854.6H1057.4C985.8 854.6 886.3 691.1 814.8 691.1H693.7C622.1 691.1 522.7 588 451.1 588Z"/><path d="M451.1 588C522.7 588 622.1 691.1 693.7 691.1H814.8C886.3 691.1 985.8 854.6 1057.4 854.6H1178.5C1250 854.6 1349.5 1862.6 1421 1862.6H1542.1C1613.7 1862.6 1713.2 882.5 1784.7 882.5H1905.8C1977.4 882.5 2076.8 695.9 2148.4 695.9V704.9C2076.8 704.9 1977.4 891.5 1905.8 891.5H1784.7C1713.2 891.5 1613.7 1871.6 1542.1 1871.6H1421C1349.5 1871.6 1250 863.6 1178.5 863.6H1057.4C985.8 863.6 886.3 700.1 814.8 700.1H693.7C622.1 700.1 522.7 597 451.1 597Z"/><path d="M451.1 597C522.7 597 622.1 700.1 693.7 700.1H814.8C886.3 700.1 985.8 863.6 1057.4 863.6H1178.5C1250 863.6 1349.5 1881.5 1421 1881.5H1542.1C1613.7 1881.5 1713.2 1079.7 1784.7 1079.7H1905.8C1977.4 1079.7 2076.8 893.1 2148.4 893.1V897.8C2076.8 897.8 1977.4 1084.3 1905.8 1084.3H1784.7C1713.2 1084.3 1613.7 1886.2 1542.1 1886.2H1421C1349.5 1886.2 1250 868.3 1178.5 868.3H1057.4C985.8 868.3 886.3 704.7 814.8 704.7H693.7C622.1 704.7 522.7 601.7 451.1 601.7Z"/><path d="M451.1 601.7C522.7 601.7 622.1 704.7 693.7 704.7H814.8C886.3 704.7 985.8 868.3 1057.4 868.3H1178.5C1250 868.3 1349.5 1903.9 1421 1903.9H1542.1C1613.7 1903.9 1713.2 1466.7 1784.7 1466.7H1905.8C1977.4 1466.7 2076.8 1280.2 2148.4 1280.2V1290.9C2076.8 1290.9 1977.4 1477.4 1905.8 1477.4H1784.7C1713.2 1477.4 1613.7 1914.6 1542.1 1914.6H1421C1349.5 1914.6 1250 879 1178.5 879H1057.4C985.8 879 886.3 715.4 814.8 715.4H693.7C622.1 715.4 522.7 612.4 451.1 612.4Z"/><path d="M451.1 612.4C522.7 612.4 622.1 715.4 693.7 715.4H814.8C886.3 715.4 985.8 879 1057.4 879H1178.5C1250 879 1349.5 1934 1421 1934H1542.1C1613.7 1934 1713.2 1870.1 1784.7 1870.1H1905.8H2148.4V1879.8H1905.8H1784.7C1713.2 1879.8 1613.7 1943.7 1542.1 1943.7H1421C1349.5 1943.7 1250 888.7 1178.5 888.7H1057.4C985.8 888.7 886.3 725.1 814.8 725.1H693.7C622.1 725.1 522.7 622.1 451.1 622.1Z"/><path d="M451.1 622.1C522.7 622.1 622.1 725.1 693.7 725.1H814.8C886.3 725.1 985.8 888.7 1057.4 888.7H1178.5C1250 888.7 1349.5 1956.8 1421 1956.8H1542.1C1613.7 1956.8 1713.2 2120.8 1784.7 2120.8H1905.8H2148.4V2126.7H1905.8H1784.7C1713.2 2126.7 1613.7 1962.7 1542.1 1962.7H1421C1349.5 1962.7 1250 894.6 1178.5 894.6H1057.4C985.8 894.6 886.3 731 814.8 731H693.7C622.1 731 522.7 628 451.1 628Z"/><path d="M451.1 628C522.7 628 622.1 764.9 693.7 764.9H814.8C886.3 764.9 985.8 414.6 1057.4 414.6H1178.5C1250 414.6 1349.5 360.2 1421 360.2H1542.1C1613.7 360.2 1713.2 1122.9 1784.7 1122.9H1905.8C1977.4 1122.9 2076.8 936.3 2148.4 936.3V936.3C2076.8 936.3 1977.4 1122.9 1905.8 1122.9H1784.7C1713.2 1122.9 1613.7 360.2 1542.1 360.2H1421C1349.5 360.2 1250 414.6 1178.5 414.6H1057.4C985.8 414.6 886.3 765 814.8 765H693.7C622.1 765 522.7 628 451.1 628Z"/><path d="M451.1 628C522.7 628 622.1 765 693.7 765H814.8C886.3 765 985.8 521.7 1057.4 521.7H1178.5C1250 521.7 1349.5 449 1421 449H1542.1C1613.7 449 1713.2 425.6 1784.7 425.6H1905.8C1977.4 425.6 2076.8 1363.1 2148.4 1363.1V1363.4C2076.8 1363.4 1977.4 425.9 1905.8 425.9H1784.7C1713.2 425.9 1613.7 449.3 1542.1 449.3H1421C1349.5 449.3 1250 522 1178.5 522H1057.4C985.8 522 886.3 765.2 814.8 765.2H693.7C622.1 765.2 522.7 628.3 451.1 628.3Z"/><path d="M451.1 628.3C522.7 628.3 622.1 765.2 693.7 765.2H814.8C886.3 765.2 985.8 522 1057.4 522H1178.5C1250 522 1349.5 521.3 1421 521.3H1542.1C1613.7 521.3 1713.2 1150.8 1784.7 1150.8H1905.8C1977.4 1150.8 2076.8 964.2 2148.4 964.2V964.8C2076.8 964.8 1977.4 1151.4 1905.8 1151.4H1784.7C1713.2 1151.4 1613.7 522 1542.1 522H1421C1349.5 522 1250 522.6 1178.5 522.6H1057.4C985.8 522.6 886.3 765.9 814.8 765.9H693.7C622.1 765.9 522.7 629 451.1 629Z"/><path d="M451.1 629C522.7 629 622.1 765.9 693.7 765.9H814.8C886.3 765.9 985.8 522.6 1057.4 522.6H1178.5C1250 522.6 1349.5 524.2 1421 524.2H1542.1C1613.7 524.2 1713.2 1575.5 1784.7 1575.5H1905.8H2148.4V1576.1H1905.8H1784.7C1713.2 1576.1 1613.7 524.8 1542.1 524.8H1421C1349.5 524.8 1250 523.2 1178.5 523.2H1057.4C985.8 523.2 886.3 766.5 814.8 766.5H693.7C622.1 766.5 522.7 629.5 451.1 629.5Z"/><path d="M451.1 629.5C522.7 629.5 622.1 766.5 693.7 766.5H814.8C886.3 766.5 985.8 523.9 1057.4 523.9H1178.5C1250 523.9 1349.5 1725.2 1421 1725.2H1542.1C1613.7 1725.2 1713.2 1827.7 1784.7 1827.7H1905.8H2148.4V1827.7H1905.8H1784.7C1713.2 1827.7 1613.7 1725.2 1542.1 1725.2H1421C1349.5 1725.2 1250 523.9 1178.5 523.9H1057.4C985.8 523.9 886.3 766.5 814.8 766.5H693.7C622.1 766.5 522.7 629.6 451.1 629.6Z"/><path d="M451.1 629.6C522.7 629.6 622.1 766.5 693.7 766.5H814.8C886.3 766.5 985.8 633 1057.4 633H1178.5C1250 633 1349.5 1775.6 1421 1775.6H1542.1C1613.7 1775.6 1713.2 377.2 1784.7 377.2H1905.8H2148.4V377.4H1905.8H1784.7C1713.2 377.4 1613.7 1775.9 1542.1 1775.9H1421C1349.5 1775.9 1250 633.2 1178.5 633.2H1057.4C985.8 633.2 886.3 766.8 814.8 766.8H693.7C622.1 766.8 522.7 629.8 451.1 629.8Z"/><path d="M451.1 629.8C522.7 629.8 622.1 766.8 693.7 766.8H814.8C886.3 766.8 985.8 633.2 1057.4 633.2H1178.5C1250 633.2 1349.5 1842.9 1421 1842.9H1542.1C1613.7 1842.9 1713.2 867.6 1784.7 867.6H1905.8C1977.4 867.6 2076.8 681.1 2148.4 681.1V681.7C2076.8 681.7 1977.4 868.2 1905.8 868.2H1784.7C1713.2 868.2 1613.7 1843.5 1542.1 1843.5H1421C1349.5 1843.5 1250 633.8 1178.5 633.8H1057.4C985.8 633.8 886.3 767.3 814.8 767.3H693.7C622.1 767.3 522.7 630.4 451.1 630.4Z"/><path d="M451.1 630.4C522.7 630.4 622.1 767.3 693.7 767.3H814.8C886.3 767.3 985.8 633.8 1057.4 633.8H1178.5C1250 633.8 1349.5 1847.9 1421 1847.9H1542.1C1613.7 1847.9 1713.2 1854.7 1784.7 1854.7H1905.8H2148.4V1855.3H1905.8H1784.7C1713.2 1855.3 1613.7 1848.6 1542.1 1848.6H1421C1349.5 1848.6 1250 634.5 1178.5 634.5H1057.4C985.8 634.5 886.3 768 814.8 768H693.7C622.1 768 522.7 631 451.1 631Z"/><path d="M451.1 631C522.7 631 622.1 768 693.7 768H814.8C886.3 768 985.8 894.6 1057.4 894.6H1178.5C1250 894.6 1349.5 293.1 1421 293.1H1542.1C1613.7 293.1 1713.2 278 1784.7 278H1905.8H2148.4V278.1H1905.8H1784.7C1713.2 278.1 1613.7 293.1 1542.1 293.1H1421C1349.5 293.1 1250 894.6 1178.5 894.6H1057.4C985.8 894.6 886.3 768 814.8 768H693.7C622.1 768 522.7 631.1 451.1 631.1Z"/><path d="M451.1 631.1C522.7 631.1 622.1 768 693.7 768H814.8C886.3 768 985.8 894.6 1057.4 894.6H1178.5C1250 894.6 1349.5 549.3 1421 549.3H1542.1C1613.7 549.3 1713.2 655.3 1784.7 655.3H1905.8C1977.4 655.3 2076.8 468.8 2148.4 468.8V469.8C2076.8 469.8 1977.4 656.4 1905.8 656.4H1784.7C1713.2 656.4 1613.7 550.4 1542.1 550.4H1421C1349.5 550.4 1250 895.7 1178.5 895.7H1057.4C985.8 895.7 886.3 769.1 814.8 769.1H693.7C622.1 769.1 522.7 632.1 451.1 632.1Z"/><path d="M451.1 632.1C522.7 632.1 622.1 769.1 693.7 769.1H814.8C886.3 769.1 985.8 895.7 1057.4 895.7H1178.5C1250 895.7 1349.5 565.6 1421 565.6H1542.1C1613.7 565.6 1713.2 967 1784.7 967H1905.8C1977.4 967 2076.8 780.4 2148.4 780.4V781C2076.8 781 1977.4 967.5 1905.8 967.5H1784.7C1713.2 967.5 1613.7 566.1 1542.1 566.1H1421C1349.5 566.1 1250 896.3 1178.5 896.3H1057.4C985.8 896.3 886.3 769.6 814.8 769.6H693.7C622.1 769.6 522.7 632.7 451.1 632.7Z"/><path d="M451.1 632.7C522.7 632.7 622.1 769.6 693.7 769.6H814.8C886.3 769.6 985.8 896.3 1057.4 896.3H1178.5C1250 896.3 1349.5 594.8 1421 594.8H1542.1C1613.7 594.8 1713.2 1179.1 1784.7 1179.1H1905.8C1977.4 1179.1 2076.8 992.6 2148.4 992.6V993.8C2076.8 993.8 1977.4 1180.4 1905.8 1180.4H1784.7C1713.2 1180.4 1613.7 596.1 1542.1 596.1H1421C1349.5 596.1 1250 897.5 1178.5 897.5H1057.4C985.8 897.5 886.3 770.9 814.8 770.9H693.7C622.1 770.9 522.7 634 451.1 634Z"/><path d="M451.1 634C522.7 634 622.1 770.9 693.7 770.9H814.8C886.3 770.9 985.8 897.5 1057.4 897.5H1178.5C1250 897.5 1349.5 642.8 1421 642.8H1542.1C1613.7 642.8 1713.2 1968.5 1784.7 1968.5H1905.8H2148.4V1969.2H1905.8H1784.7C1713.2 1969.2 1613.7 643.5 1542.1 643.5H1421C1349.5 643.5 1250 898.2 1178.5 898.2H1057.4C985.8 898.2 886.3 771.6 814.8 771.6H693.7C622.1 771.6 522.7 634.7 451.1 634.7Z"/><path d="M451.1 634.7C522.7 634.7 622.1 771.6 693.7 771.6H814.8C886.3 771.6 985.8 898.2 1057.4 898.2H1178.5C1250 898.2 1349.5 1619.1 1421 1619.1H1542.1C1613.7 1619.1 1713.2 562.5 1784.7 562.5H1905.8C1977.4 562.5 2076.8 1500 2148.4 1500V1500C2076.8 1500 1977.4 562.6 1905.8 562.6H1784.7C1713.2 562.6 1613.7 1619.1 1542.1 1619.1H1421C1349.5 1619.1 1250 898.3 1178.5 898.3H1057.4C985.8 898.3 886.3 771.6 814.8 771.6H693.7C622.1 771.6 522.7 634.7 451.1 634.7Z"/><path d="M451.1 634.7C522.7 634.7 622.1 771.6 693.7 771.6H814.8C886.3 771.6 985.8 898.3 1057.4 898.3H1178.5C1250 898.3 1349.5 1798.8 1421 1798.8H1542.1C1613.7 1798.8 1713.2 573.4 1784.7 573.4H1905.8C1977.4 573.4 2076.8 1510.9 2148.4 1510.9V1511.4C2076.8 1511.4 1977.4 573.9 1905.8 573.9H1784.7C1713.2 573.9 1613.7 1799.3 1542.1 1799.3H1421C1349.5 1799.3 1250 898.8 1178.5 898.8H1057.4C985.8 898.8 886.3 772.1 814.8 772.1H693.7C622.1 772.1 522.7 635.2 451.1 635.2Z"/><path d="M451.1 635.2C522.7 635.2 622.1 772.1 693.7 772.1H814.8C886.3 772.1 985.8 898.8 1057.4 898.8H1178.5C1250 898.8 1349.5 1914.6 1421 1914.6H1542.1C1613.7 1914.6 1713.2 1477.4 1784.7 1477.4H1905.8C1977.4 1477.4 2076.8 1290.9 2148.4 1290.9V1292.1C2076.8 1292.1 1977.4 1478.7 1905.8 1478.7H1784.7C1713.2 1478.7 1613.7 1915.8 1542.1 1915.8H1421C1349.5 1915.8 1250 900 1178.5 900H1057.4C985.8 900 886.3 773.3 814.8 773.3H693.7C622.1 773.3 522.7 636.4 451.1 636.4Z"/><path d="M451.1 636.4C522.7 636.4 622.1 773.3 693.7 773.3H814.8C886.3 773.3 985.8 900 1057.4 900H1178.5C1250 900 1349.5 1943.7 1421 1943.7H1542.1C1613.7 1943.7 1713.2 1879.8 1784.7 1879.8H1905.8H2148.4V1880.9H1905.8H1784.7C1713.2 1880.9 1613.7 1944.8 1542.1 1944.8H1421C1349.5 1944.8 1250 901.1 1178.5 901.1H1057.4C985.8 901.1 886.3 774.4 814.8 774.4H693.7C622.1 774.4 522.7 637.5 451.1 637.5Z"/><path d="M451.1 637.5C522.7 637.5 622.1 774.4 693.7 774.4H814.8C886.3 774.4 985.8 901.1 1057.4 901.1H1178.5C1250 901.1 1349.5 1962.7 1421 1962.7H1542.1C1613.7 1962.7 1713.2 2126.7 1784.7 2126.7H1905.8H2148.4V2127.4H1905.8H1784.7C1713.2 2127.4 1613.7 1963.4 1542.1 1963.4H1421C1349.5 1963.4 1250 901.7 1178.5 901.7H1057.4C985.8 901.7 886.3 775.1 814.8 775.1H693.7C622.1 775.1 522.7 638.2 451.1 638.2Z"/><path d="M451.1 638.2C522.7 638.2 622.1 775.1 693.7 775.1H814.8C886.3 775.1 985.8 1032 1057.4 1032H1178.5C1250 1032 1349.5 446 1421 446H1542.1C1613.7 446 1713.2 1147.5 1784.7 1147.5H1905.8C1977.4 1147.5 2076.8 960.9 2148.4 960.9V961.5C2076.8 961.5 1977.4 1148.1 1905.8 1148.1H1784.7C1713.2 1148.1 1613.7 446.6 1542.1 446.6H1421C1349.5 446.6 1250 1032.6 1178.5 1032.6H1057.4C985.8 1032.6 886.3 775.7 814.8 775.7H693.7C622.1 775.7 522.7 638.8 451.1 638.8Z"/><path d="M451.1 638.8C522.7 638.8 622.1 775.7 693.7 775.7H814.8C886.3 775.7 985.8 1032.6 1057.4 1032.6H1178.5C1250 1032.6 1349.5 447 1421 447H1542.1C1613.7 447 1713.2 1572.8 1784.7 1572.8H1905.8H2148.4V1573.4H1905.8H1784.7C1713.2 1573.4 1613.7 447.6 1542.1 447.6H1421C1349.5 447.6 1250 1033.2 1178.5 1033.2H1057.4C985.8 1033.2 886.3 776.3 814.8 776.3H693.7C622.1 776.3 522.7 639.4 451.1 639.4Z"/><path d="M451.1 639.4C522.7 639.4 622.1 776.3 693.7 776.3H814.8C886.3 776.3 985.8 1033.2 1057.4 1033.2H1178.5C1250 1033.2 1349.5 479.1 1421 479.1H1542.1C1613.7 479.1 1713.2 294.1 1784.7 294.1H1905.8H2148.4V303.6H1905.8H1784.7C1713.2 303.6 1613.7 488.6 1542.1 488.6H1421C1349.5 488.6 1250 1042.7 1178.5 1042.7H1057.4C985.8 1042.7 886.3 785.8 814.8 785.8H693.7C622.1 785.8 522.7 648.9 451.1 648.9Z"/><path d="M451.1 648.9C522.7 648.9 622.1 785.8 693.7 785.8H814.8C886.3 785.8 985.8 1042.7 1057.4 1042.7H1178.5C1250 1042.7 1349.5 499.7 1421 499.7H1542.1C1613.7 499.7 1713.2 444.8 1784.7 444.8H1905.8C1977.4 444.8 2076.8 1382.3 2148.4 1382.3V1393.6C2076.8 1393.6 1977.4 456.2 1905.8 456.2H1784.7C1713.2 456.2 1613.7 511.1 1542.1 511.1H1421C1349.5 511.1 1250 1054.1 1178.5 1054.1H1057.4C985.8 1054.1 886.3 797.2 814.8 797.2H693.7C622.1 797.2 522.7 660.3 451.1 660.3Z"/><path d="M451.1 660.3C522.7 660.3 622.1 797.2 693.7 797.2H814.8C886.3 797.2 985.8 1054.1 1057.4 1054.1H1178.5C1250 1054.1 1349.5 654.6 1421 654.6H1542.1C1613.7 654.6 1713.2 668.5 1784.7 668.5H1905.8C1977.4 668.5 2076.8 481.9 2148.4 481.9V503.2C2076.8 503.2 1977.4 689.8 1905.8 689.8H1784.7C1713.2 689.8 1613.7 675.9 1542.1 675.9H1421C1349.5 675.9 1250 1075.4 1178.5 1075.4H1057.4C985.8 1075.4 886.3 818.5 814.8 818.5H693.7C622.1 818.5 522.7 681.5 451.1 681.5Z"/><path d="M451.1 681.5C522.7 681.5 622.1 818.5 693.7 818.5H814.8C886.3 818.5 985.8 1075.4 1057.4 1075.4H1178.5C1250 1075.4 1349.5 694.6 1421 694.6H1542.1C1613.7 694.6 1713.2 973.9 1784.7 973.9H1905.8C1977.4 973.9 2076.8 787.4 2148.4 787.4V798.6C2076.8 798.6 1977.4 985.2 1905.8 985.2H1784.7C1713.2 985.2 1613.7 705.9 1542.1 705.9H1421C1349.5 705.9 1250 1086.6 1178.5 1086.6H1057.4C985.8 1086.6 886.3 829.7 814.8 829.7H693.7C622.1 829.7 522.7 692.8 451.1 692.8Z"/><path d="M451.1 692.8C522.7 692.8 622.1 829.7 693.7 829.7H814.8C886.3 829.7 985.8 1086.6 1057.4 1086.6H1178.5C1250 1086.6 1349.5 724 1421 724H1542.1C1613.7 724 1713.2 1194.5 1784.7 1194.5H1905.8C1977.4 1194.5 2076.8 1007.9 2148.4 1007.9V1032.8C2076.8 1032.8 1977.4 1219.4 1905.8 1219.4H1784.7C1713.2 1219.4 1613.7 748.9 1542.1 748.9H1421C1349.5 748.9 1250 1111.5 1178.5 1111.5H1057.4C985.8 1111.5 886.3 854.6 814.8 854.6H693.7C622.1 854.6 522.7 717.7 451.1 717.7Z"/><path d="M451.1 717.7C522.7 717.7 622.1 854.6 693.7 854.6H814.8C886.3 854.6 985.8 1111.5 1057.4 1111.5H1178.5C1250 1111.5 1349.5 775 1421 775H1542.1C1613.7 775 1713.2 1614.2 1784.7 1614.2H1905.8H2148.4V1637H1905.8H1784.7C1713.2 1637 1613.7 797.8 1542.1 797.8H1421C1349.5 797.8 1250 1134.3 1178.5 1134.3H1057.4C985.8 1134.3 886.3 877.5 814.8 877.5H693.7C622.1 877.5 522.7 740.5 451.1 740.5Z"/><path d="M451.1 740.5C522.7 740.5 622.1 877.5 693.7 877.5H814.8C886.3 877.5 985.8 1134.3 1057.4 1134.3H1178.5C1250 1134.3 1349.5 818.7 1421 818.7H1542.1C1613.7 818.7 1713.2 1977.2 1784.7 1977.2H1905.8H2148.4V1991.4H1905.8H1784.7C1713.2 1991.4 1613.7 832.8 1542.1 832.8H1421C1349.5 832.8 1250 1148.5 1178.5 1148.5H1057.4C985.8 1148.5 886.3 891.6 814.8 891.6H693.7C622.1 891.6 522.7 754.6 451.1 754.6Z"/><path d="M451.1 754.6C522.7 754.6 622.1 891.6 693.7 891.6H814.8C886.3 891.6 985.8 1148.5 1057.4 1148.5H1178.5C1250 1148.5 1349.5 1772.5 1421 1772.5H1542.1C1613.7 1772.5 1713.2 1447.4 1784.7 1447.4H1905.8C1977.4 1447.4 2076.8 1260.8 2148.4 1260.8V1261.6C2076.8 1261.6 1977.4 1448.1 1905.8 1448.1H1784.7C1713.2 1448.1 1613.7 1773.2 1542.1 1773.2H1421C1349.5 1773.2 1250 1149.2 1178.5 1149.2H1057.4C985.8 1149.2 886.3 892.3 814.8 892.3H693.7C622.1 892.3 522.7 755.4 451.1 755.4Z"/><path d="M451.1 755.4C522.7 755.4 622.1 892.3 693.7 892.3H814.8C886.3 892.3 985.8 1149.2 1057.4 1149.2H1178.5C1250 1149.2 1349.5 1774.3 1421 1774.3H1542.1C1613.7 1774.3 1713.2 2111.1 1784.7 2111.1H1905.8H2148.4V2111.5H1905.8H1784.7C1713.2 2111.5 1613.7 1774.7 1542.1 1774.7H1421C1349.5 1774.7 1250 1149.6 1178.5 1149.6H1057.4C985.8 1149.6 886.3 892.8 814.8 892.8H693.7C622.1 892.8 522.7 755.8 451.1 755.8Z"/><path d="M451.1 755.8C522.7 755.8 622.1 892.8 693.7 892.8H814.8C886.3 892.8 985.8 1149.6 1057.4 1149.6H1178.5C1250 1149.6 1349.5 1804.8 1421 1804.8H1542.1C1613.7 1804.8 1713.2 393.6 1784.7 393.6H1905.8H2148.4V403.2H1905.8H1784.7C1713.2 403.2 1613.7 1814.4 1542.1 1814.4H1421C1349.5 1814.4 1250 1159.2 1178.5 1159.2H1057.4C985.8 1159.2 886.3 902.4 814.8 902.4H693.7C622.1 902.4 522.7 765.4 451.1 765.4Z"/><path d="M451.1 765.4C522.7 765.4 622.1 902.4 693.7 902.4H814.8C886.3 902.4 985.8 1159.2 1057.4 1159.2H1178.5C1250 1159.2 1349.5 1824.9 1421 1824.9H1542.1C1613.7 1824.9 1713.2 579.6 1784.7 579.6H1905.8C1977.4 579.6 2076.8 1517 2148.4 1517V1527C2076.8 1527 1977.4 589.5 1905.8 589.5H1784.7C1713.2 589.5 1613.7 1834.9 1542.1 1834.9H1421C1349.5 1834.9 1250 1169.2 1178.5 1169.2H1057.4C985.8 1169.2 886.3 912.3 814.8 912.3H693.7C622.1 912.3 522.7 775.4 451.1 775.4Z"/><path d="M451.1 775.4C522.7 775.4 622.1 912.3 693.7 912.3H814.8C886.3 912.3 985.8 1169.2 1057.4 1169.2H1178.5C1250 1169.2 1349.5 1974.2 1421 1974.2H1542.1C1613.7 1974.2 1713.2 903.3 1784.7 903.3H1905.8C1977.4 903.3 2076.8 716.7 2148.4 716.7V737.5C2076.8 737.5 1977.4 924.1 1905.8 924.1H1784.7C1713.2 924.1 1613.7 1995 1542.1 1995H1421C1349.5 1995 1250 1190 1178.5 1190H1057.4C985.8 1190 886.3 933.1 814.8 933.1H693.7C622.1 933.1 522.7 796.2 451.1 796.2Z"/><path d="M451.1 796.2C522.7 796.2 622.1 933.1 693.7 933.1H814.8C886.3 933.1 985.8 1190 1057.4 1190H1178.5C1250 1190 1349.5 2013.2 1421 2013.2H1542.1C1613.7 2013.2 1713.2 1090.5 1784.7 1090.5H1905.8C1977.4 1090.5 2076.8 903.9 2148.4 903.9V914.7C2076.8 914.7 1977.4 1101.3 1905.8 1101.3H1784.7C1713.2 1101.3 1613.7 2024 1542.1 2024H1421C1349.5 2024 1250 1200.8 1178.5 1200.8H1057.4C985.8 1200.8 886.3 943.9 814.8 943.9H693.7C622.1 943.9 522.7 807 451.1 807Z"/><path d="M451.1 807C522.7 807 622.1 943.9 693.7 943.9H814.8C886.3 943.9 985.8 1200.8 1057.4 1200.8H1178.5C1250 1200.8 1349.5 2041.7 1421 2041.7H1542.1C1613.7 2041.7 1713.2 1492.7 1784.7 1492.7H1905.8C1977.4 1492.7 2076.8 1306.1 2148.4 1306.1V1330.8C2076.8 1330.8 1977.4 1517.4 1905.8 1517.4H1784.7C1713.2 1517.4 1613.7 2066.4 1542.1 2066.4H1421C1349.5 2066.4 1250 1225.5 1178.5 1225.5H1057.4C985.8 1225.5 886.3 968.6 814.8 968.6H693.7C622.1 968.6 522.7 831.7 451.1 831.7Z"/><path d="M451.1 831.7C522.7 831.7 622.1 968.6 693.7 968.6H814.8C886.3 968.6 985.8 1225.5 1057.4 1225.5H1178.5C1250 1225.5 1349.5 2092.2 1421 2092.2H1542.1C1613.7 2092.2 1713.2 1893.7 1784.7 1893.7H1905.8H2148.4V1916.1H1905.8H1784.7C1713.2 1916.1 1613.7 2114.6 1542.1 2114.6H1421C1349.5 2114.6 1250 1248 1178.5 1248H1057.4C985.8 1248 886.3 991.1 814.8 991.1H693.7C622.1 991.1 522.7 854.1 451.1 854.1Z"/><path d="M451.1 854.1C522.7 854.1 622.1 991.1 693.7 991.1H814.8C886.3 991.1 985.8 1248 1057.4 1248H1178.5C1250 1248 1349.5 2135.1 1421 2135.1H1542.1H1784.7H1905.8H2148.4V2148.7H1905.8H1784.7H1542.1H1421C1349.5 2148.7 1250 1261.6 1178.5 1261.6H1057.4C985.8 1261.6 886.3 1004.7 814.8 1004.7H693.7C622.1 1004.7 522.7 867.8 451.1 867.8Z"/><path d="M451.1 867.8C522.7 867.8 622.1 1967 693.7 1967H814.8C886.3 1967 985.8 634.7 1057.4 634.7H1178.5C1250 634.7 1349.5 421.9 1421 421.9H1542.1C1613.7 421.9 1713.2 1571 1784.7 1571H1905.8H2148.4V1571H1905.8H1784.7C1713.2 1571 1613.7 421.9 1542.1 421.9H1421C1349.5 421.9 1250 634.7 1178.5 634.7H1057.4C985.8 634.7 886.3 1967 814.8 1967H693.7C622.1 1967 522.7 867.8 451.1 867.8Z"/><path d="M451.1 867.8C522.7 867.8 622.1 1967 693.7 1967H814.8C886.3 1967 985.8 638.4 1057.4 638.4H1178.5C1250 638.4 1349.5 448 1421 448H1542.1C1613.7 448 1713.2 278.1 1784.7 278.1H1905.8H2148.4V278.3H1905.8H1784.7C1713.2 278.3 1613.7 448.2 1542.1 448.2H1421C1349.5 448.2 1250 638.6 1178.5 638.6H1057.4C985.8 638.6 886.3 1967.3 814.8 1967.3H693.7C622.1 1967.3 522.7 868 451.1 868Z"/><path d="M451.1 868C522.7 868 622.1 1967.3 693.7 1967.3H814.8C886.3 1967.3 985.8 638.6 1057.4 638.6H1178.5C1250 638.6 1349.5 522 1421 522H1542.1C1613.7 522 1713.2 1151.4 1784.7 1151.4H1905.8C1977.4 1151.4 2076.8 964.8 2148.4 964.8V965.4C2076.8 965.4 1977.4 1151.9 1905.8 1151.9H1784.7C1713.2 1151.9 1613.7 522.5 1542.1 522.5H1421C1349.5 522.5 1250 639.2 1178.5 639.2H1057.4C985.8 639.2 886.3 1967.8 814.8 1967.8H693.7C622.1 1967.8 522.7 868.5 451.1 868.5Z"/><path d="M451.1 868.5C522.7 868.5 622.1 1967.8 693.7 1967.8H814.8C886.3 1967.8 985.8 639.2 1057.4 639.2H1178.5C1250 639.2 1349.5 1709.9 1421 1709.9H1542.1C1613.7 1709.9 1713.2 1446 1784.7 1446H1905.8C1977.4 1446 2076.8 1259.4 2148.4 1259.4V1259.4C2076.8 1259.4 1977.4 1446 1905.8 1446H1784.7C1713.2 1446 1613.7 1709.9 1542.1 1709.9H1421C1349.5 1709.9 1250 639.2 1178.5 639.2H1057.4C985.8 639.2 886.3 1967.8 814.8 1967.8H693.7C622.1 1967.8 522.7 868.5 451.1 868.5Z"/><path d="M451.1 868.5C522.7 868.5 622.1 1967.8 693.7 1967.8H814.8C886.3 1967.8 985.8 643 1057.4 643H1178.5C1250 643 1349.5 1775.9 1421 1775.9H1542.1C1613.7 1775.9 1713.2 377.4 1784.7 377.4H1905.8H2148.4V377.7H1905.8H1784.7C1713.2 377.7 1613.7 1776.2 1542.1 1776.2H1421C1349.5 1776.2 1250 643.2 1178.5 643.2H1057.4C985.8 643.2 886.3 1968.1 814.8 1968.1H693.7C622.1 1968.1 522.7 868.8 451.1 868.8Z"/><path d="M451.1 868.8C522.7 868.8 622.1 1968.1 693.7 1968.1H814.8C886.3 1968.1 985.8 643.2 1057.4 643.2H1178.5C1250 643.2 1349.5 1843.5 1421 1843.5H1542.1C1613.7 1843.5 1713.2 868.2 1784.7 868.2H1905.8C1977.4 868.2 2076.8 681.7 2148.4 681.7V682.2C2076.8 682.2 1977.4 868.7 1905.8 868.7H1784.7C1713.2 868.7 1613.7 1844 1542.1 1844H1421C1349.5 1844 1250 643.7 1178.5 643.7H1057.4C985.8 643.7 886.3 1968.6 814.8 1968.6H693.7C622.1 1968.6 522.7 869.3 451.1 869.3Z"/><path d="M451.1 869.3C522.7 869.3 622.1 1968.6 693.7 1968.6H814.8C886.3 1968.6 985.8 901.7 1057.4 901.7H1178.5C1250 901.7 1349.5 444.3 1421 444.3H1542.1C1613.7 444.3 1713.2 1147 1784.7 1147H1905.8C1977.4 1147 2076.8 960.5 2148.4 960.5V960.6C2076.8 960.6 1977.4 1147.2 1905.8 1147.2H1784.7C1713.2 1147.2 1613.7 444.5 1542.1 444.5H1421C1349.5 444.5 1250 901.9 1178.5 901.9H1057.4C985.8 901.9 886.3 1968.7 814.8 1968.7H693.7C622.1 1968.7 522.7 869.4 451.1 869.4Z"/><path d="M451.1 869.4C522.7 869.4 622.1 1968.7 693.7 1968.7H814.8C886.3 1968.7 985.8 901.9 1057.4 901.9H1178.5C1250 901.9 1349.5 459.7 1421 459.7H1542.1C1613.7 459.7 1713.2 288.7 1784.7 288.7H1905.8H2148.4V290H1905.8H1784.7C1713.2 290 1613.7 461 1542.1 461H1421C1349.5 461 1250 903.2 1178.5 903.2H1057.4C985.8 903.2 886.3 1970 814.8 1970H693.7C622.1 1970 522.7 870.7 451.1 870.7Z"/><path d="M451.1 870.7C522.7 870.7 622.1 1970 693.7 1970H814.8C886.3 1970 985.8 903.2 1057.4 903.2H1178.5C1250 903.2 1349.5 473.4 1421 473.4H1542.1C1613.7 473.4 1713.2 438.4 1784.7 438.4H1905.8C1977.4 438.4 2076.8 1375.8 2148.4 1375.8V1377.3C2076.8 1377.3 1977.4 439.9 1905.8 439.9H1784.7C1713.2 439.9 1613.7 475 1542.1 475H1421C1349.5 475 1250 904.7 1178.5 904.7H1057.4C985.8 904.7 886.3 1971.5 814.8 1971.5H693.7C622.1 1971.5 522.7 872.2 451.1 872.2Z"/><path d="M451.1 872.2C522.7 872.2 622.1 1971.5 693.7 1971.5H814.8C886.3 1971.5 985.8 904.7 1057.4 904.7H1178.5C1250 904.7 1349.5 550.4 1421 550.4H1542.1C1613.7 550.4 1713.2 656.4 1784.7 656.4H1905.8C1977.4 656.4 2076.8 469.8 2148.4 469.8V472.7C2076.8 472.7 1977.4 659.2 1905.8 659.2H1784.7C1713.2 659.2 1613.7 553.2 1542.1 553.2H1421C1349.5 553.2 1250 907.6 1178.5 907.6H1057.4C985.8 907.6 886.3 1974.4 814.8 1974.4H693.7C622.1 1974.4 522.7 875.1 451.1 875.1Z"/><path d="M451.1 875.1C522.7 875.1 622.1 1974.4 693.7 1974.4H814.8C886.3 1974.4 985.8 907.6 1057.4 907.6H1178.5C1250 907.6 1349.5 566.1 1421 566.1H1542.1C1613.7 566.1 1713.2 967.5 1784.7 967.5H1905.8C1977.4 967.5 2076.8 781 2148.4 781V782.5C2076.8 782.5 1977.4 969 1905.8 969H1784.7C1713.2 969 1613.7 567.6 1542.1 567.6H1421C1349.5 567.6 1250 909.1 1178.5 909.1H1057.4C985.8 909.1 886.3 1975.9 814.8 1975.9H693.7C622.1 1975.9 522.7 876.6 451.1 876.6Z"/><path d="M451.1 876.6C522.7 876.6 622.1 1975.9 693.7 1975.9H814.8C886.3 1975.9 985.8 909.1 1057.4 909.1H1178.5C1250 909.1 1349.5 596.1 1421 596.1H1542.1C1613.7 596.1 1713.2 1180.4 1784.7 1180.4H1905.8C1977.4 1180.4 2076.8 993.8 2148.4 993.8V997.1C2076.8 997.1 1977.4 1183.7 1905.8 1183.7H1784.7C1713.2 1183.7 1613.7 599.4 1542.1 599.4H1421C1349.5 599.4 1250 912.4 1178.5 912.4H1057.4C985.8 912.4 886.3 1979.2 814.8 1979.2H693.7C622.1 1979.2 522.7 879.9 451.1 879.9Z"/><path d="M451.1 879.9C522.7 879.9 622.1 1979.2 693.7 1979.2H814.8C886.3 1979.2 985.8 912.4 1057.4 912.4H1178.5C1250 912.4 1349.5 624.3 1421 624.3H1542.1C1613.7 624.3 1713.2 1601.3 1784.7 1601.3H1905.8H2148.4V1604.3H1905.8H1784.7C1713.2 1604.3 1613.7 627.4 1542.1 627.4H1421C1349.5 627.4 1250 915.5 1178.5 915.5H1057.4C985.8 915.5 886.3 1982.3 814.8 1982.3H693.7C622.1 1982.3 522.7 883 451.1 883Z"/><path d="M451.1 883C522.7 883 622.1 1982.3 693.7 1982.3H814.8C886.3 1982.3 985.8 915.5 1057.4 915.5H1178.5C1250 915.5 1349.5 643.5 1421 643.5H1542.1C1613.7 643.5 1713.2 1969.2 1784.7 1969.2H1905.8H2148.4V1971.1H1905.8H1784.7C1713.2 1971.1 1613.7 645.4 1542.1 645.4H1421C1349.5 645.4 1250 917.4 1178.5 917.4H1057.4C985.8 917.4 886.3 1984.2 814.8 1984.2H693.7C622.1 1984.2 522.7 884.9 451.1 884.9Z"/><path d="M451.1 884.9C522.7 884.9 622.1 1984.2 693.7 1984.2H814.8C886.3 1984.2 985.8 917.4 1057.4 917.4H1178.5C1250 917.4 1349.5 1771.7 1421 1771.7H1542.1C1613.7 1771.7 1713.2 1851.5 1784.7 1851.5H1905.8H2148.4V1851.7H1905.8H1784.7C1713.2 1851.7 1613.7 1771.9 1542.1 1771.9H1421C1349.5 1771.9 1250 917.5 1178.5 917.5H1057.4C985.8 917.5 886.3 1984.3 814.8 1984.3H693.7C622.1 1984.3 522.7 885.1 451.1 885.1Z"/><path d="M451.1 885.1C522.7 885.1 622.1 1984.3 693.7 1984.3H814.8C886.3 1984.3 985.8 917.5 1057.4 917.5H1178.5C1250 917.5 1349.5 1786.6 1421 1786.6H1542.1C1613.7 1786.6 1713.2 388.2 1784.7 388.2H1905.8H2148.4V389.4H1905.8H1784.7C1713.2 389.4 1613.7 1787.9 1542.1 1787.9H1421C1349.5 1787.9 1250 918.8 1178.5 918.8H1057.4C985.8 918.8 886.3 1985.6 814.8 1985.6H693.7C622.1 1985.6 522.7 886.3 451.1 886.3Z"/><path d="M451.1 886.3C522.7 886.3 622.1 1985.6 693.7 1985.6H814.8C886.3 1985.6 985.8 918.8 1057.4 918.8H1178.5C1250 918.8 1349.5 1799.3 1421 1799.3H1542.1C1613.7 1799.3 1713.2 573.9 1784.7 573.9H1905.8C1977.4 573.9 2076.8 1511.4 2148.4 1511.4V1512.7C2076.8 1512.7 1977.4 575.3 1905.8 575.3H1784.7C1713.2 575.3 1613.7 1800.6 1542.1 1800.6H1421C1349.5 1800.6 1250 920.1 1178.5 920.1H1057.4C985.8 920.1 886.3 1987 814.8 1987H693.7C622.1 1987 522.7 887.7 451.1 887.7Z"/><path d="M451.1 887.7C522.7 887.7 622.1 1987 693.7 1987H814.8C886.3 1987 985.8 920.1 1057.4 920.1H1178.5C1250 920.1 1349.5 1871.6 1421 1871.6H1542.1C1613.7 1871.6 1713.2 891.5 1784.7 891.5H1905.8C1977.4 891.5 2076.8 704.9 2148.4 704.9V707.7C2076.8 707.7 1977.4 894.2 1905.8 894.2H1784.7C1713.2 894.2 1613.7 1874.4 1542.1 1874.4H1421C1349.5 1874.4 1250 922.9 1178.5 922.9H1057.4C985.8 922.9 886.3 1989.7 814.8 1989.7H693.7C622.1 1989.7 522.7 890.5 451.1 890.5Z"/><path d="M451.1 890.5C522.7 890.5 622.1 1989.7 693.7 1989.7H814.8C886.3 1989.7 985.8 922.9 1057.4 922.9H1178.5C1250 922.9 1349.5 1886.2 1421 1886.2H1542.1C1613.7 1886.2 1713.2 1084.3 1784.7 1084.3H1905.8C1977.4 1084.3 2076.8 897.8 2148.4 897.8V899.2C2076.8 899.2 1977.4 1085.8 1905.8 1085.8H1784.7C1713.2 1085.8 1613.7 1887.6 1542.1 1887.6H1421C1349.5 1887.6 1250 924.4 1178.5 924.4H1057.4C985.8 924.4 886.3 1991.2 814.8 1991.2H693.7C622.1 1991.2 522.7 891.9 451.1 891.9Z"/><path d="M451.1 891.9C522.7 891.9 622.1 1991.2 693.7 1991.2H814.8C886.3 1991.2 985.8 924.4 1057.4 924.4H1178.5C1250 924.4 1349.5 1915.8 1421 1915.8H1542.1C1613.7 1915.8 1713.2 1478.7 1784.7 1478.7H1905.8C1977.4 1478.7 2076.8 1292.1 2148.4 1292.1V1295.4C2076.8 1295.4 1977.4 1482 1905.8 1482H1784.7C1713.2 1482 1613.7 1919.2 1542.1 1919.2H1421C1349.5 1919.2 1250 927.7 1178.5 927.7H1057.4C985.8 927.7 886.3 1994.5 814.8 1994.5H693.7C622.1 1994.5 522.7 895.2 451.1 895.2Z"/><path d="M451.1 895.2C522.7 895.2 622.1 1994.5 693.7 1994.5H814.8C886.3 1994.5 985.8 927.7 1057.4 927.7H1178.5C1250 927.7 1349.5 1944.8 1421 1944.8H1542.1C1613.7 1944.8 1713.2 1880.9 1784.7 1880.9H1905.8H2148.4V1883.9H1905.8H1784.7C1713.2 1883.9 1613.7 1947.8 1542.1 1947.8H1421C1349.5 1947.8 1250 930.7 1178.5 930.7H1057.4C985.8 930.7 886.3 1997.5 814.8 1997.5H693.7C622.1 1997.5 522.7 898.2 451.1 898.2Z"/><path d="M451.1 898.2C522.7 898.2 622.1 1997.5 693.7 1997.5H814.8C886.3 1997.5 985.8 930.7 1057.4 930.7H1178.5C1250 930.7 1349.5 1963.4 1421 1963.4H1542.1C1613.7 1963.4 1713.2 2127.4 1784.7 2127.4H1905.8H2148.4V2129.2H1905.8H1784.7C1713.2 2129.2 1613.7 1965.2 1542.1 1965.2H1421C1349.5 1965.2 1250 932.5 1178.5 932.5H1057.4C985.8 932.5 886.3 1999.3 814.8 1999.3H693.7C622.1 1999.3 522.7 900.1 451.1 900.1Z"/><path d="M451.1 900.1C522.7 900.1 622.1 1999.3 693.7 1999.3H814.8C886.3 1999.3 985.8 1261.6 1057.4 1261.6H1178.5C1250 1261.6 1349.5 446.6 1421 446.6H1542.1C1613.7 446.6 1713.2 1148.1 1784.7 1148.1H1905.8C1977.4 1148.1 2076.8 961.5 2148.4 961.5V961.9C2076.8 961.9 1977.4 1148.4 1905.8 1148.4H1784.7C1713.2 1148.4 1613.7 447 1542.1 447H1421C1349.5 447 1250 1262 1178.5 1262H1057.4C985.8 1262 886.3 1999.7 814.8 1999.7H693.7C622.1 1999.7 522.7 900.4 451.1 900.4Z"/><path d="M451.1 900.4C522.7 900.4 622.1 1999.7 693.7 1999.7H814.8C886.3 1999.7 985.8 1262 1057.4 1262H1178.5C1250 1262 1349.5 447.6 1421 447.6H1542.1C1613.7 447.6 1713.2 1573.4 1784.7 1573.4H1905.8H2148.4V1573.8H1905.8H1784.7C1713.2 1573.8 1613.7 448 1542.1 448H1421C1349.5 448 1250 1262.4 1178.5 1262.4H1057.4C985.8 1262.4 886.3 2000.1 814.8 2000.1H693.7C622.1 2000.1 522.7 900.8 451.1 900.8Z"/><path d="M451.1 900.8C522.7 900.8 622.1 2000.1 693.7 2000.1H814.8C886.3 2000.1 985.8 1262.4 1057.4 1262.4H1178.5C1250 1262.4 1349.5 488.6 1421 488.6H1542.1C1613.7 488.6 1713.2 303.6 1784.7 303.6H1905.8H2148.4V309.8H1905.8H1784.7C1713.2 309.8 1613.7 494.8 1542.1 494.8H1421C1349.5 494.8 1250 1268.5 1178.5 1268.5H1057.4C985.8 1268.5 886.3 2006.3 814.8 2006.3H693.7C622.1 2006.3 522.7 907 451.1 907Z"/><path d="M451.1 907C522.7 907 622.1 2006.3 693.7 2006.3H814.8C886.3 2006.3 985.8 1268.5 1057.4 1268.5H1178.5C1250 1268.5 1349.5 511.1 1421 511.1H1542.1C1613.7 511.1 1713.2 456.2 1784.7 456.2H1905.8C1977.4 456.2 2076.8 1393.6 2148.4 1393.6V1401C2076.8 1401 1977.4 463.6 1905.8 463.6H1784.7C1713.2 463.6 1613.7 518.5 1542.1 518.5H1421C1349.5 518.5 1250 1275.9 1178.5 1275.9H1057.4C985.8 1275.9 886.3 2013.7 814.8 2013.7H693.7C622.1 2013.7 522.7 914.4 451.1 914.4Z"/><path d="M451.1 914.4C522.7 914.4 622.1 2013.7 693.7 2013.7H814.8C886.3 2013.7 985.8 1275.9 1057.4 1275.9H1178.5C1250 1275.9 1349.5 675.9 1421 675.9H1542.1C1613.7 675.9 1713.2 689.8 1784.7 689.8H1905.8C1977.4 689.8 2076.8 503.2 2148.4 503.2V517C2076.8 517 1977.4 703.6 1905.8 703.6H1784.7C1713.2 703.6 1613.7 689.8 1542.1 689.8H1421C1349.5 689.8 1250 1289.8 1178.5 1289.8H1057.4C985.8 1289.8 886.3 2027.5 814.8 2027.5H693.7C622.1 2027.5 522.7 928.2 451.1 928.2Z"/><path d="M451.1 928.2C522.7 928.2 622.1 2027.5 693.7 2027.5H814.8C886.3 2027.5 985.8 1289.8 1057.4 1289.8H1178.5C1250 1289.8 1349.5 705.9 1421 705.9H1542.1C1613.7 705.9 1713.2 985.2 1784.7 985.2H1905.8C1977.4 985.2 2076.8 798.6 2148.4 798.6V806C2076.8 806 1977.4 992.5 1905.8 992.5H1784.7C1713.2 992.5 1613.7 713.2 1542.1 713.2H1421C1349.5 713.2 1250 1297.1 1178.5 1297.1H1057.4C985.8 1297.1 886.3 2034.8 814.8 2034.8H693.7C622.1 2034.8 522.7 935.6 451.1 935.6Z"/><path d="M451.1 935.6C522.7 935.6 622.1 2034.8 693.7 2034.8H814.8C886.3 2034.8 985.8 1297.1 1057.4 1297.1H1178.5C1250 1297.1 1349.5 748.9 1421 748.9H1542.1C1613.7 748.9 1713.2 1219.4 1784.7 1219.4H1905.8C1977.4 1219.4 2076.8 1032.8 2148.4 1032.8V1049C2076.8 1049 1977.4 1235.5 1905.8 1235.5H1784.7C1713.2 1235.5 1613.7 765.1 1542.1 765.1H1421C1349.5 765.1 1250 1313.2 1178.5 1313.2H1057.4C985.8 1313.2 886.3 2051 814.8 2051H693.7C622.1 2051 522.7 951.7 451.1 951.7Z"/><path d="M451.1 951.7C522.7 951.7 622.1 2051 693.7 2051H814.8C886.3 2051 985.8 1313.2 1057.4 1313.2H1178.5C1250 1313.2 1349.5 797.8 1421 797.8H1542.1C1613.7 797.8 1713.2 1637 1784.7 1637H1905.8H2148.4V1651.9H1905.8H1784.7C1713.2 1651.9 1613.7 812.6 1542.1 812.6H1421C1349.5 812.6 1250 1328.1 1178.5 1328.1H1057.4C985.8 1328.1 886.3 2065.8 814.8 2065.8H693.7C622.1 2065.8 522.7 966.6 451.1 966.6Z"/><path d="M451.1 966.6C522.7 966.6 622.1 2065.8 693.7 2065.8H814.8C886.3 2065.8 985.8 1328.1 1057.4 1328.1H1178.5C1250 1328.1 1349.5 832.8 1421 832.8H1542.1C1613.7 832.8 1713.2 1991.4 1784.7 1991.4H1905.8H2148.4V2000.5H1905.8H1784.7C1713.2 2000.5 1613.7 842 1542.1 842H1421C1349.5 842 1250 1337.2 1178.5 1337.2H1057.4C985.8 1337.2 886.3 2075 814.8 2075H693.7C622.1 2075 522.7 975.7 451.1 975.7Z"/><path d="M451.1 975.7C522.7 975.7 622.1 2075 693.7 2075H814.8C886.3 2075 985.8 1337.2 1057.4 1337.2H1178.5C1250 1337.2 1349.5 1773.2 1421 1773.2H1542.1C1613.7 1773.2 1713.2 1448.1 1784.7 1448.1H1905.8C1977.4 1448.1 2076.8 1261.6 2148.4 1261.6V1261.9C2076.8 1261.9 1977.4 1448.5 1905.8 1448.5H1784.7C1713.2 1448.5 1613.7 1773.6 1542.1 1773.6H1421C1349.5 1773.6 1250 1337.6 1178.5 1337.6H1057.4C985.8 1337.6 886.3 2075.4 814.8 2075.4H693.7C622.1 2075.4 522.7 976.1 451.1 976.1Z"/><path d="M451.1 976.1C522.7 976.1 622.1 2075.4 693.7 2075.4H814.8C886.3 2075.4 985.8 1337.6 1057.4 1337.6H1178.5C1250 1337.6 1349.5 1773.9 1421 1773.9H1542.1C1613.7 1773.9 1713.2 1851.9 1784.7 1851.9H1905.8H2148.4V1852.3H1905.8H1784.7C1713.2 1852.3 1613.7 1774.3 1542.1 1774.3H1421C1349.5 1774.3 1250 1338 1178.5 1338H1057.4C985.8 1338 886.3 2075.8 814.8 2075.8H693.7C622.1 2075.8 522.7 976.5 451.1 976.5Z"/><path d="M451.1 976.5C522.7 976.5 622.1 2075.8 693.7 2075.8H814.8C886.3 2075.8 985.8 1338 1057.4 1338H1178.5C1250 1338 1349.5 1814.4 1421 1814.4H1542.1C1613.7 1814.4 1713.2 403.2 1784.7 403.2H1905.8H2148.4V409.4H1905.8H1784.7C1713.2 409.4 1613.7 1820.6 1542.1 1820.6H1421C1349.5 1820.6 1250 1344.3 1178.5 1344.3H1057.4C985.8 1344.3 886.3 2082 814.8 2082H693.7C622.1 2082 522.7 982.7 451.1 982.7Z"/><path d="M451.1 982.7C522.7 982.7 622.1 2082 693.7 2082H814.8C886.3 2082 985.8 1344.3 1057.4 1344.3H1178.5C1250 1344.3 1349.5 1834.9 1421 1834.9H1542.1C1613.7 1834.9 1713.2 589.5 1784.7 589.5H1905.8C1977.4 589.5 2076.8 1527 2148.4 1527V1533.5C2076.8 1533.5 1977.4 596 1905.8 596H1784.7C1713.2 596 1613.7 1841.4 1542.1 1841.4H1421C1349.5 1841.4 1250 1350.7 1178.5 1350.7H1057.4C985.8 1350.7 886.3 2088.5 814.8 2088.5H693.7C622.1 2088.5 522.7 989.2 451.1 989.2Z"/><path d="M451.1 989.2C522.7 989.2 622.1 2088.5 693.7 2088.5H814.8C886.3 2088.5 985.8 1350.7 1057.4 1350.7H1178.5C1250 1350.7 1349.5 1995 1421 1995H1542.1C1613.7 1995 1713.2 924.1 1784.7 924.1H1905.8C1977.4 924.1 2076.8 737.5 2148.4 737.5V751C2076.8 751 1977.4 937.6 1905.8 937.6H1784.7C1713.2 937.6 1613.7 2008.5 1542.1 2008.5H1421C1349.5 2008.5 1250 1364.2 1178.5 1364.2H1057.4C985.8 1364.2 886.3 2102 814.8 2102H693.7C622.1 2102 522.7 1002.7 451.1 1002.7Z"/><path d="M451.1 1002.7C522.7 1002.7 622.1 2102 693.7 2102H814.8C886.3 2102 985.8 1364.2 1057.4 1364.2H1178.5C1250 1364.2 1349.5 2024 1421 2024H1542.1C1613.7 2024 1713.2 1101.3 1784.7 1101.3H1905.8C1977.4 1101.3 2076.8 914.7 2148.4 914.7V921.7C2076.8 921.7 1977.4 1108.3 1905.8 1108.3H1784.7C1713.2 1108.3 1613.7 2031 1542.1 2031H1421C1349.5 2031 1250 1371.2 1178.5 1371.2H1057.4C985.8 1371.2 886.3 2109 814.8 2109H693.7C622.1 2109 522.7 1009.7 451.1 1009.7Z"/><path d="M451.1 1009.7C522.7 1009.7 622.1 2109 693.7 2109H814.8C886.3 2109 985.8 1371.2 1057.4 1371.2H1178.5C1250 1371.2 1349.5 2066.4 1421 2066.4H1542.1C1613.7 2066.4 1713.2 1517.4 1784.7 1517.4H1905.8C1977.4 1517.4 2076.8 1330.8 2148.4 1330.8V1346.9C2076.8 1346.9 1977.4 1533.5 1905.8 1533.5H1784.7C1713.2 1533.5 1613.7 2082.5 1542.1 2082.5H1421C1349.5 2082.5 1250 1387.3 1178.5 1387.3H1057.4C985.8 1387.3 886.3 2125.1 814.8 2125.1H693.7C622.1 2125.1 522.7 1025.8 451.1 1025.8Z"/><path d="M451.1 1025.8C522.7 1025.8 622.1 2125.1 693.7 2125.1H814.8C886.3 2125.1 985.8 1387.3 1057.4 1387.3H1178.5C1250 1387.3 1349.5 2114.6 1421 2114.6H1542.1C1613.7 2114.6 1713.2 1916.1 1784.7 1916.1H1905.8H2148.4V1930.7H1905.8H1784.7C1713.2 1930.7 1613.7 2129.2 1542.1 2129.2H1421C1349.5 2129.2 1250 1401.9 1178.5 1401.9H1057.4C985.8 1401.9 886.3 2139.6 814.8 2139.6H693.7C622.1 2139.6 522.7 1040.4 451.1 1040.4Z"/><path d="M451.1 1040.4C522.7 1040.4 622.1 2139.6 693.7 2139.6H814.8C886.3 2139.6 985.8 1401.9 1057.4 1401.9H1178.5C1250 1401.9 1349.5 2148.7 1421 2148.7H1542.1H1784.7H1905.8H2148.4V2157.6H1905.8H1784.7H1542.1H1421C1349.5 2157.6 1250 1410.7 1178.5 1410.7H1057.4C985.8 1410.7 886.3 2148.5 814.8 2148.5H693.7C622.1 2148.5 522.7 1049.2 451.1 1049.2Z"/></g>
<g class="e"><path d="M451.1 1049.2C522.7 1049.2 622.1 517.9 693.7 517.9H814.8C886.3 517.9 985.8 265.3 1057.4 265.3H1178.5H1421H1542.1H1784.7H1905.8H2148.4V269H1905.8H1784.7H1542.1H1421H1178.5H1057.4C985.8 269 886.3 521.6 814.8 521.6H693.7C622.1 521.6 522.7 1052.9 451.1 1052.9Z"/><path d="M451.1 1052.9C522.7 1052.9 622.1 521.6 693.7 521.6H814.8C886.3 521.6 985.8 269 1057.4 269H1178.5C1250 269 1349.5 278 1421 278H1542.1C1613.7 278 1713.2 409.4 1784.7 409.4H1905.8C1977.4 409.4 2076.8 1346.9 2148.4 1346.9V1351.3C2076.8 1351.3 1977.4 413.8 1905.8 413.8H1784.7C1713.2 413.8 1613.7 282.4 1542.1 282.4H1421C1349.5 282.4 1250 273.4 1178.5 273.4H1057.4C985.8 273.4 886.3 526 814.8 526H693.7C622.1 526 522.7 1057.3 451.1 1057.3Z"/><path d="M451.1 1057.3C522.7 1057.3 622.1 526 693.7 526H814.8C886.3 526 985.8 273.4 1057.4 273.4H1178.5C1250 273.4 1349.5 293.5 1421 293.5H1542.1C1613.7 293.5 1713.2 596 1784.7 596H1905.8C1977.4 596 2076.8 409.4 2148.4 409.4V419.4C2076.8 419.4 1977.4 605.9 1905.8 605.9H1784.7C1713.2 605.9 1613.7 303.4 1542.1 303.4H1421C1349.5 303.4 1250 283.3 1178.5 283.3H1057.4C985.8 283.3 886.3 535.9 814.8 535.9H693.7C622.1 535.9 522.7 1067.2 451.1 1067.2Z"/><path d="M451.1 1067.2C522.7 1067.2 622.1 535.9 693.7 535.9H814.8C886.3 535.9 985.8 283.3 1057.4 283.3H1178.5C1250 283.3 1349.5 328.5 1421 328.5H1542.1C1613.7 328.5 1713.2 937.6 1784.7 937.6H1905.8C1977.4 937.6 2076.8 751 2148.4 751V756C2076.8 756 1977.4 942.5 1905.8 942.5H1784.7C1713.2 942.5 1613.7 333.5 1542.1 333.5H1421C1349.5 333.5 1250 288.3 1178.5 288.3H1057.4C985.8 288.3 886.3 540.9 814.8 540.9H693.7C622.1 540.9 522.7 1072.2 451.1 1072.2Z"/><path d="M451.1 1072.2C522.7 1072.2 622.1 540.9 693.7 540.9H814.8C886.3 540.9 985.8 288.3 1057.4 288.3H1178.5C1250 288.3 1349.5 345.6 1421 345.6H1542.1C1613.7 345.6 1713.2 1108.3 1784.7 1108.3H1905.8C1977.4 1108.3 2076.8 921.7 2148.4 921.7V932.7C2076.8 932.7 1977.4 1119.2 1905.8 1119.2H1784.7C1713.2 1119.2 1613.7 356.6 1542.1 356.6H1421C1349.5 356.6 1250 299.2 1178.5 299.2H1057.4C985.8 299.2 886.3 551.8 814.8 551.8H693.7C622.1 551.8 522.7 1083.1 451.1 1083.1Z"/><path d="M451.1 1083.1C522.7 1083.1 622.1 551.8 693.7 551.8H814.8C886.3 551.8 985.8 299.2 1057.4 299.2H1178.5C1250 299.2 1349.5 384.4 1421 384.4H1542.1C1613.7 384.4 1713.2 1533.5 1784.7 1533.5H1905.8H2148.4V1544.4H1905.8H1784.7C1713.2 1544.4 1613.7 395.3 1542.1 395.3H1421C1349.5 395.3 1250 310.2 1178.5 310.2H1057.4C985.8 310.2 886.3 562.8 814.8 562.8H693.7C622.1 562.8 522.7 1094.1 451.1 1094.1Z"/><path d="M451.1 1094.1C522.7 1094.1 622.1 562.8 693.7 562.8H814.8C886.3 562.8 985.8 310.2 1057.4 310.2H1178.5C1250 310.2 1349.5 423 1421 423H1542.1C1613.7 423 1713.2 1930.7 1784.7 1930.7H1905.8H2148.4V1936.7H1905.8H1784.7C1713.2 1936.7 1613.7 428.9 1542.1 428.9H1421C1349.5 428.9 1250 316.1 1178.5 316.1H1057.4C985.8 316.1 886.3 568.7 814.8 568.7H693.7C622.1 568.7 522.7 1100 451.1 1100Z"/><path d="M451.1 1100C522.7 1100 622.1 568.7 693.7 568.7H814.8C886.3 568.7 985.8 317 1057.4 317H1178.5C1250 317 1349.5 518.9 1421 518.9H1542.1C1613.7 518.9 1713.2 631.9 1784.7 631.9H1905.8C1977.4 631.9 2076.8 445.4 2148.4 445.4V445.5C2076.8 445.5 1977.4 632.1 1905.8 632.1H1784.7C1713.2 632.1 1613.7 519 1542.1 519H1421C1349.5 519 1250 317.1 1178.5 317.1H1057.4C985.8 317.1 886.3 568.9 814.8 568.9H693.7C622.1 568.9 522.7 1100.2 451.1 1100.2Z"/><path d="M451.1 1100.2C522.7 1100.2 622.1 568.9 693.7 568.9H814.8C886.3 568.9 985.8 317.1 1057.4 317.1H1178.5C1250 317.1 1349.5 977.5 1421 977.5H1542.1C1613.7 977.5 1713.2 703.6 1784.7 703.6H1905.8C1977.4 703.6 2076.8 517 2148.4 517V517.2C2076.8 517.2 1977.4 703.8 1905.8 703.8H1784.7C1713.2 703.8 1613.7 977.8 1542.1 977.8H1421C1349.5 977.8 1250 317.3 1178.5 317.3H1057.4C985.8 317.3 886.3 569.1 814.8 569.1H693.7C622.1 569.1 522.7 1100.4 451.1 1100.4Z"/><path d="M451.1 1100.4C522.7 1100.4 622.1 569.1 693.7 569.1H814.8C886.3 569.1 985.8 317.3 1057.4 317.3H1178.5C1250 317.3 1349.5 1589 1421 1589H1542.1C1613.7 1589 1713.2 361.4 1784.7 361.4H1905.8H2148.4V365.8H1905.8H1784.7C1713.2 365.8 1613.7 1593.4 1542.1 1593.4H1421C1349.5 1593.4 1250 321.7 1178.5 321.7H1057.4C985.8 321.7 886.3 573.5 814.8 573.5H693.7C622.1 573.5 522.7 1104.8 451.1 1104.8Z"/><path d="M451.1 1104.8C522.7 1104.8 622.1 573.5 693.7 573.5H814.8C886.3 573.5 985.8 321.7 1057.4 321.7H1178.5C1250 321.7 1349.5 1604.1 1421 1604.1H1542.1C1613.7 1604.1 1713.2 547.5 1784.7 547.5H1905.8C1977.4 547.5 2076.8 1485 2148.4 1485V1489.3C2076.8 1489.3 1977.4 551.8 1905.8 551.8H1784.7C1713.2 551.8 1613.7 1608.4 1542.1 1608.4H1421C1349.5 1608.4 1250 326 1178.5 326H1057.4C985.8 326 886.3 577.8 814.8 577.8H693.7C622.1 577.8 522.7 1109.1 451.1 1109.1Z"/><path d="M451.1 1109.1C522.7 1109.1 622.1 577.8 693.7 577.8H814.8C886.3 577.8 985.8 326 1057.4 326H1178.5C1250 326 1349.5 1619.1 1421 1619.1H1542.1C1613.7 1619.1 1713.2 829.3 1784.7 829.3H1905.8C1977.4 829.3 2076.8 642.8 2148.4 642.8V653C2076.8 653 1977.4 839.6 1905.8 839.6H1784.7C1713.2 839.6 1613.7 1629.4 1542.1 1629.4H1421C1349.5 1629.4 1250 336.3 1178.5 336.3H1057.4C985.8 336.3 886.3 588.1 814.8 588.1H693.7C622.1 588.1 522.7 1119.4 451.1 1119.4Z"/><path d="M451.1 1119.4C522.7 1119.4 622.1 588.1 693.7 588.1H814.8C886.3 588.1 985.8 336.3 1057.4 336.3H1178.5C1250 336.3 1349.5 1655.5 1421 1655.5H1542.1C1613.7 1655.5 1713.2 1056.4 1784.7 1056.4H1905.8C1977.4 1056.4 2076.8 869.9 2148.4 869.9V874.6C2076.8 874.6 1977.4 1061.1 1905.8 1061.1H1784.7C1713.2 1061.1 1613.7 1660.2 1542.1 1660.2H1421C1349.5 1660.2 1250 341 1178.5 341H1057.4C985.8 341 886.3 592.7 814.8 592.7H693.7C622.1 592.7 522.7 1124 451.1 1124Z"/><path d="M451.1 1124C522.7 1124 622.1 592.7 693.7 592.7H814.8C886.3 592.7 985.8 341 1057.4 341H1178.5C1250 341 1349.5 1671.7 1421 1671.7H1542.1C1613.7 1671.7 1713.2 1407.7 1784.7 1407.7H1905.8C1977.4 1407.7 2076.8 1221.1 2148.4 1221.1V1232.3C2076.8 1232.3 1977.4 1418.8 1905.8 1418.8H1784.7C1713.2 1418.8 1613.7 1682.8 1542.1 1682.8H1421C1349.5 1682.8 1250 352.1 1178.5 352.1H1057.4C985.8 352.1 886.3 603.9 814.8 603.9H693.7C622.1 603.9 522.7 1135.2 451.1 1135.2Z"/><path d="M451.1 1135.2C522.7 1135.2 622.1 603.9 693.7 603.9H814.8C886.3 603.9 985.8 352.1 1057.4 352.1H1178.5C1250 352.1 1349.5 1711 1421 1711H1542.1C1613.7 1711 1713.2 1813.5 1784.7 1813.5H1905.8H2148.4V1824.2H1905.8H1784.7C1713.2 1824.2 1613.7 1721.7 1542.1 1721.7H1421C1349.5 1721.7 1250 362.7 1178.5 362.7H1057.4C985.8 362.7 886.3 614.5 814.8 614.5H693.7C622.1 614.5 522.7 1145.8 451.1 1145.8Z"/><path d="M451.1 1145.8C522.7 1145.8 622.1 614.5 693.7 614.5H814.8C886.3 614.5 985.8 362.7 1057.4 362.7H1178.5C1250 362.7 1349.5 1748.6 1421 1748.6H1542.1C1613.7 1748.6 1713.2 2088.5 1784.7 2088.5H1905.8H2148.4V2094.8H1905.8H1784.7C1713.2 2094.8 1613.7 1755 1542.1 1755H1421C1349.5 1755 1250 369.1 1178.5 369.1H1057.4C985.8 369.1 886.3 620.8 814.8 620.8H693.7C622.1 620.8 522.7 1152.1 451.1 1152.1Z"/><path d="M451.1 1152.1C522.7 1152.1 622.1 620.8 693.7 620.8H814.8C886.3 620.8 985.8 369.9 1057.4 369.9H1178.5C1250 369.9 1349.5 1841.4 1421 1841.4H1542.1C1613.7 1841.4 1713.2 866.1 1784.7 866.1H1905.8C1977.4 866.1 2076.8 679.6 2148.4 679.6V679.7C2076.8 679.7 1977.4 866.2 1905.8 866.2H1784.7C1713.2 866.2 1613.7 1841.5 1542.1 1841.5H1421C1349.5 1841.5 1250 370 1178.5 370H1057.4C985.8 370 886.3 621 814.8 621H693.7C622.1 621 522.7 1152.3 451.1 1152.3Z"/><path d="M451.1 1152.3C522.7 1152.3 622.1 731 693.7 731H814.8C886.3 731 985.8 370 1057.4 370H1178.5C1250 370 1349.5 269 1421 269H1542.1H1784.7H1905.8H2148.4V270.2H1905.8H1784.7H1542.1H1421C1349.5 270.2 1250 371.3 1178.5 371.3H1057.4C985.8 371.3 886.3 732.3 814.8 732.3H693.7C622.1 732.3 522.7 1153.5 451.1 1153.5Z"/><path d="M451.1 1153.5C522.7 1153.5 622.1 732.3 693.7 732.3H814.8C886.3 732.3 985.8 371.3 1057.4 371.3H1178.5C1250 371.3 1349.5 282.4 1421 282.4H1542.1C1613.7 282.4 1713.2 413.8 1784.7 413.8H1905.8C1977.4 413.8 2076.8 1351.3 2148.4 1351.3V1352.7C2076.8 1352.7 1977.4 415.2 1905.8 415.2H1784.7C1713.2 415.2 1613.7 283.9 1542.1 283.9H1421C1349.5 283.9 1250 372.7 1178.5 372.7H1057.4C985.8 372.7 886.3 733.7 814.8 733.7H693.7C622.1 733.7 522.7 1154.9 451.1 1154.9Z"/><path d="M451.1 1154.9C522.7 1154.9 622.1 733.7 693.7 733.7H814.8C886.3 733.7 985.8 372.7 1057.4 372.7H1178.5C1250 372.7 1349.5 303.4 1421 303.4H1542.1C1613.7 303.4 1713.2 605.9 1784.7 605.9H1905.8C1977.4 605.9 2076.8 419.4 2148.4 419.4V422.6C2076.8 422.6 1977.4 609.2 1905.8 609.2H1784.7C1713.2 609.2 1613.7 306.6 1542.1 306.6H1421C1349.5 306.6 1250 376 1178.5 376H1057.4C985.8 376 886.3 737 814.8 737H693.7C622.1 737 522.7 1158.2 451.1 1158.2Z"/><path d="M451.1 1158.2C522.7 1158.2 622.1 737 693.7 737H814.8C886.3 737 985.8 376 1057.4 376H1178.5C1250 376 1349.5 333.5 1421 333.5H1542.1C1613.7 333.5 1713.2 942.5 1784.7 942.5H1905.8C1977.4 942.5 2076.8 756 2148.4 756V757.6C2076.8 757.6 1977.4 944.2 1905.8 944.2H1784.7C1713.2 944.2 1613.7 335.1 1542.1 335.1H1421C1349.5 335.1 1250 377.6 1178.5 377.6H1057.4C985.8 377.6 886.3 738.6 814.8 738.6H693.7C622.1 738.6 522.7 1159.8 451.1 1159.8Z"/><path d="M451.1 1159.8C522.7 1159.8 622.1 738.6 693.7 738.6H814.8C886.3 738.6 985.8 377.6 1057.4 377.6H1178.5C1250 377.6 1349.5 356.6 1421 356.6H1542.1C1613.7 356.6 1713.2 1119.3 1784.7 1119.3H1905.8C1977.4 1119.3 2076.8 932.7 2148.4 932.7V936.3C2076.8 936.3 1977.4 1122.9 1905.8 1122.9H1784.7C1713.2 1122.9 1613.7 360.2 1542.1 360.2H1421C1349.5 360.2 1250 381.2 1178.5 381.2H1057.4C985.8 381.2 886.3 742.2 814.8 742.2H693.7C622.1 742.2 522.7 1163.4 451.1 1163.4Z"/><path d="M451.1 1163.4C522.7 1163.4 622.1 742.2 693.7 742.2H814.8C886.3 742.2 985.8 381.2 1057.4 381.2H1178.5C1250 381.2 1349.5 395.3 1421 395.3H1542.1C1613.7 395.3 1713.2 1544.4 1784.7 1544.4H1905.8H2148.4V1548H1905.8H1784.7C1713.2 1548 1613.7 398.9 1542.1 398.9H1421C1349.5 398.9 1250 384.8 1178.5 384.8H1057.4C985.8 384.8 886.3 745.8 814.8 745.8H693.7C622.1 745.8 522.7 1167 451.1 1167Z"/><path d="M451.1 1167C522.7 1167 622.1 745.8 693.7 745.8H814.8C886.3 745.8 985.8 384.8 1057.4 384.8H1178.5C1250 384.8 1349.5 428.9 1421 428.9H1542.1C1613.7 428.9 1713.2 1936.7 1784.7 1936.7H1905.8H2148.4V1938.6H1905.8H1784.7C1713.2 1938.6 1613.7 430.9 1542.1 430.9H1421C1349.5 430.9 1250 386.8 1178.5 386.8H1057.4C985.8 386.8 886.3 747.8 814.8 747.8H693.7C622.1 747.8 522.7 1169 451.1 1169Z"/><path d="M451.1 1169C522.7 1169 622.1 747.8 693.7 747.8H814.8C886.3 747.8 985.8 392.1 1057.4 392.1H1178.5C1250 392.1 1349.5 521.3 1421 521.3H1542.1C1613.7 521.3 1713.2 1150.7 1784.7 1150.7H1905.8C1977.4 1150.7 2076.8 964.2 2148.4 964.2V964.2C2076.8 964.2 1977.4 1150.8 1905.8 1150.8H1784.7C1713.2 1150.8 1613.7 521.3 1542.1 521.3H1421C1349.5 521.3 1250 392.2 1178.5 392.2H1057.4C985.8 392.2 886.3 747.8 814.8 747.8H693.7C622.1 747.8 522.7 1169 451.1 1169Z"/><path d="M451.1 1169C522.7 1169 622.1 747.8 693.7 747.8H814.8C886.3 747.8 985.8 392.2 1057.4 392.2H1178.5C1250 392.2 1349.5 977.8 1421 977.8H1542.1C1613.7 977.8 1713.2 703.8 1784.7 703.8H1905.8C1977.4 703.8 2076.8 517.2 2148.4 517.2V517.3C2076.8 517.3 1977.4 703.9 1905.8 703.9H1784.7C1713.2 703.9 1613.7 977.8 1542.1 977.8H1421C1349.5 977.8 1250 392.2 1178.5 392.2H1057.4C985.8 392.2 886.3 747.9 814.8 747.9H693.7C622.1 747.9 522.7 1169.1 451.1 1169.1Z"/><path d="M451.1 1169.1C522.7 1169.1 622.1 747.9 693.7 747.9H814.8C886.3 747.9 985.8 392.3 1057.4 392.3H1178.5C1250 392.3 1349.5 1593.4 1421 1593.4H1542.1C1613.7 1593.4 1713.2 365.8 1784.7 365.8H1905.8H2148.4V367.2H1905.8H1784.7C1713.2 367.2 1613.7 1594.8 1542.1 1594.8H1421C1349.5 1594.8 1250 393.8 1178.5 393.8H1057.4C985.8 393.8 886.3 749.3 814.8 749.3H693.7C622.1 749.3 522.7 1170.5 451.1 1170.5Z"/><path d="M451.1 1170.5C522.7 1170.5 622.1 749.3 693.7 749.3H814.8C886.3 749.3 985.8 393.8 1057.4 393.8H1178.5C1250 393.8 1349.5 1608.4 1421 1608.4H1542.1C1613.7 1608.4 1713.2 551.8 1784.7 551.8H1905.8C1977.4 551.8 2076.8 1489.3 2148.4 1489.3V1490.7C2076.8 1490.7 1977.4 553.3 1905.8 553.3H1784.7C1713.2 553.3 1613.7 1609.8 1542.1 1609.8H1421C1349.5 1609.8 1250 395.2 1178.5 395.2H1057.4C985.8 395.2 886.3 750.7 814.8 750.7H693.7C622.1 750.7 522.7 1171.9 451.1 1171.9Z"/><path d="M451.1 1171.9C522.7 1171.9 622.1 750.7 693.7 750.7H814.8C886.3 750.7 985.8 395.2 1057.4 395.2H1178.5C1250 395.2 1349.5 1629.5 1421 1629.5H1542.1C1613.7 1629.5 1713.2 839.7 1784.7 839.7H1905.8C1977.4 839.7 2076.8 653.1 2148.4 653.1V656.5C2076.8 656.5 1977.4 843 1905.8 843H1784.7C1713.2 843 1613.7 1632.9 1542.1 1632.9H1421C1349.5 1632.9 1250 398.5 1178.5 398.5H1057.4C985.8 398.5 886.3 754.1 814.8 754.1H693.7C622.1 754.1 522.7 1175.3 451.1 1175.3Z"/><path d="M451.1 1175.3C522.7 1175.3 622.1 754.1 693.7 754.1H814.8C886.3 754.1 985.8 398.5 1057.4 398.5H1178.5C1250 398.5 1349.5 1660.2 1421 1660.2H1542.1C1613.7 1660.2 1713.2 1061.1 1784.7 1061.1H1905.8C1977.4 1061.1 2076.8 874.6 2148.4 874.6V876.1C2076.8 876.1 1977.4 1062.7 1905.8 1062.7H1784.7C1713.2 1062.7 1613.7 1661.8 1542.1 1661.8H1421C1349.5 1661.8 1250 400.1 1178.5 400.1H1057.4C985.8 400.1 886.3 755.7 814.8 755.7H693.7C622.1 755.7 522.7 1176.9 451.1 1176.9Z"/><path d="M451.1 1176.9C522.7 1176.9 622.1 755.7 693.7 755.7H814.8C886.3 755.7 985.8 400.1 1057.4 400.1H1178.5C1250 400.1 1349.5 1682.8 1421 1682.8H1542.1C1613.7 1682.8 1713.2 1418.8 1784.7 1418.8H1905.8C1977.4 1418.8 2076.8 1232.3 2148.4 1232.3V1236C2076.8 1236 1977.4 1422.5 1905.8 1422.5H1784.7C1713.2 1422.5 1613.7 1686.5 1542.1 1686.5H1421C1349.5 1686.5 1250 403.8 1178.5 403.8H1057.4C985.8 403.8 886.3 759.3 814.8 759.3H693.7C622.1 759.3 522.7 1180.5 451.1 1180.5Z"/><path d="M451.1 1180.5C522.7 1180.5 622.1 759.3 693.7 759.3H814.8C886.3 759.3 985.8 403.8 1057.4 403.8H1178.5C1250 403.8 1349.5 1721.7 1421 1721.7H1542.1C1613.7 1721.7 1713.2 1824.2 1784.7 1824.2H1905.8H2148.4V1827.7H1905.8H1784.7C1713.2 1827.7 1613.7 1725.2 1542.1 1725.2H1421C1349.5 1725.2 1250 407.3 1178.5 407.3H1057.4C985.8 407.3 886.3 762.8 814.8 762.8H693.7C622.1 762.8 522.7 1184 451.1 1184Z"/><path d="M451.1 1184C522.7 1184 622.1 762.8 693.7 762.8H814.8C886.3 762.8 985.8 407.3 1057.4 407.3H1178.5C1250 407.3 1349.5 1755 1421 1755H1542.1C1613.7 1755 1713.2 2094.8 1784.7 2094.8H1905.8H2148.4V2096.9H1905.8H1784.7C1713.2 2096.9 1613.7 1757 1542.1 1757H1421C1349.5 1757 1250 409.3 1178.5 409.3H1057.4C985.8 409.3 886.3 764.9 814.8 764.9H693.7C622.1 764.9 522.7 1186.1 451.1 1186.1Z"/><path d="M451.1 1186.1C522.7 1186.1 622.1 764.9 693.7 764.9H814.8C886.3 764.9 985.8 414.6 1057.4 414.6H1178.5C1250 414.6 1349.5 1847.9 1421 1847.9H1542.1C1613.7 1847.9 1713.2 1854.6 1784.7 1854.6H1905.8H2148.4V1854.7H1905.8H1784.7C1713.2 1854.7 1613.7 1847.9 1542.1 1847.9H1421C1349.5 1847.9 1250 414.6 1178.5 414.6H1057.4C985.8 414.6 886.3 764.9 814.8 764.9H693.7C622.1 764.9 522.7 1186.1 451.1 1186.1Z"/><path d="M451.1 1186.1C522.7 1186.1 622.1 1004.7 693.7 1004.7H814.8C886.3 1004.7 985.8 414.6 1057.4 414.6H1178.5C1250 414.6 1349.5 270.2 1421 270.2H1542.1H1784.7H1905.8H2148.4V278H1905.8H1784.7H1542.1H1421C1349.5 278 1250 422.4 1178.5 422.4H1057.4C985.8 422.4 886.3 1012.5 814.8 1012.5H693.7C622.1 1012.5 522.7 1194 451.1 1194Z"/><path d="M451.1 1194C522.7 1194 622.1 1012.5 693.7 1012.5H814.8C886.3 1012.5 985.8 422.4 1057.4 422.4H1178.5C1250 422.4 1349.5 283.9 1421 283.9H1542.1C1613.7 283.9 1713.2 415.2 1784.7 415.2H1905.8C1977.4 415.2 2076.8 1352.7 2148.4 1352.7V1361.9C2076.8 1361.9 1977.4 424.5 1905.8 424.5H1784.7C1713.2 424.5 1613.7 293.1 1542.1 293.1H1421C1349.5 293.1 1250 431.6 1178.5 431.6H1057.4C985.8 431.6 886.3 1021.7 814.8 1021.7H693.7C622.1 1021.7 522.7 1203.2 451.1 1203.2Z"/><path d="M451.1 1203.2C522.7 1203.2 622.1 1021.7 693.7 1021.7H814.8C886.3 1021.7 985.8 431.6 1057.4 431.6H1178.5C1250 431.6 1349.5 306.6 1421 306.6H1542.1C1613.7 306.6 1713.2 609.2 1784.7 609.2H1905.8C1977.4 609.2 2076.8 422.6 2148.4 422.6V443.5C2076.8 443.5 1977.4 630.1 1905.8 630.1H1784.7C1713.2 630.1 1613.7 327.5 1542.1 327.5H1421C1349.5 327.5 1250 452.5 1178.5 452.5H1057.4C985.8 452.5 886.3 1042.6 814.8 1042.6H693.7C622.1 1042.6 522.7 1224.1 451.1 1224.1Z"/><path d="M451.1 1224.1C522.7 1224.1 622.1 1042.6 693.7 1042.6H814.8C886.3 1042.6 985.8 452.5 1057.4 452.5H1178.5C1250 452.5 1349.5 335.1 1421 335.1H1542.1C1613.7 335.1 1713.2 944.2 1784.7 944.2H1905.8C1977.4 944.2 2076.8 757.6 2148.4 757.6V768.1C2076.8 768.1 1977.4 954.6 1905.8 954.6H1784.7C1713.2 954.6 1613.7 345.6 1542.1 345.6H1421C1349.5 345.6 1250 463 1178.5 463H1057.4C985.8 463 886.3 1053.1 814.8 1053.1H693.7C622.1 1053.1 522.7 1234.6 451.1 1234.6Z"/><path d="M451.1 1234.6C522.7 1234.6 622.1 1053.1 693.7 1053.1H814.8C886.3 1053.1 985.8 463 1057.4 463H1178.5C1250 463 1349.5 360.2 1421 360.2H1542.1C1613.7 360.2 1713.2 1122.9 1784.7 1122.9H1905.8C1977.4 1122.9 2076.8 936.3 2148.4 936.3V959.4C2076.8 959.4 1977.4 1146 1905.8 1146H1784.7C1713.2 1146 1613.7 383.3 1542.1 383.3H1421C1349.5 383.3 1250 486.1 1178.5 486.1H1057.4C985.8 486.1 886.3 1076.2 814.8 1076.2H693.7C622.1 1076.2 522.7 1257.6 451.1 1257.6Z"/><path d="M451.1 1257.6C522.7 1257.6 622.1 1076.2 693.7 1076.2H814.8C886.3 1076.2 985.8 486.1 1057.4 486.1H1178.5C1250 486.1 1349.5 398.9 1421 398.9H1542.1C1613.7 398.9 1713.2 1548 1784.7 1548H1905.8H2148.4V1571H1905.8H1784.7C1713.2 1571 1613.7 421.9 1542.1 421.9H1421C1349.5 421.9 1250 509.1 1178.5 509.1H1057.4C985.8 509.1 886.3 1099.2 814.8 1099.2H693.7C622.1 1099.2 522.7 1280.6 451.1 1280.6Z"/><path d="M451.1 1280.6C522.7 1280.6 622.1 1099.2 693.7 1099.2H814.8C886.3 1099.2 985.8 509.1 1057.4 509.1H1178.5C1250 509.1 1349.5 430.9 1421 430.9H1542.1C1613.7 430.9 1713.2 1938.6 1784.7 1938.6H1905.8H2148.4V1951.2H1905.8H1784.7C1713.2 1951.2 1613.7 443.5 1542.1 443.5H1421C1349.5 443.5 1250 521.7 1178.5 521.7H1057.4C985.8 521.7 886.3 1111.8 814.8 1111.8H693.7C622.1 1111.8 522.7 1293.2 451.1 1293.2Z"/><path d="M451.1 1293.2C522.7 1293.2 622.1 1111.8 693.7 1111.8H814.8C886.3 1111.8 985.8 523.2 1057.4 523.2H1178.5C1250 523.2 1349.5 524.8 1421 524.8H1542.1C1613.7 524.8 1713.2 1576.1 1784.7 1576.1H1905.8H2148.4V1576.3H1905.8H1784.7C1713.2 1576.3 1613.7 525 1542.1 525H1421C1349.5 525 1250 523.4 1178.5 523.4H1057.4C985.8 523.4 886.3 1112 814.8 1112H693.7C622.1 1112 522.7 1293.5 451.1 1293.5Z"/><path d="M451.1 1293.5C522.7 1293.5 622.1 1112 693.7 1112H814.8C886.3 1112 985.8 523.4 1057.4 523.4H1178.5C1250 523.4 1349.5 842 1421 842H1542.1C1613.7 842 1713.2 309.8 1784.7 309.8H1905.8H2148.4V309.9H1905.8H1784.7C1713.2 309.9 1613.7 842.1 1542.1 842.1H1421C1349.5 842.1 1250 523.6 1178.5 523.6H1057.4C985.8 523.6 886.3 1112.1 814.8 1112.1H693.7C622.1 1112.1 522.7 1293.6 451.1 1293.6Z"/><path d="M451.1 1293.6C522.7 1293.6 622.1 1112.1 693.7 1112.1H814.8C886.3 1112.1 985.8 523.6 1057.4 523.6H1178.5C1250 523.6 1349.5 977.8 1421 977.8H1542.1C1613.7 977.8 1713.2 1651.9 1784.7 1651.9H1905.8H2148.4V1652.2H1905.8H1784.7C1713.2 1652.2 1613.7 978.2 1542.1 978.2H1421C1349.5 978.2 1250 523.9 1178.5 523.9H1057.4C985.8 523.9 886.3 1112.5 814.8 1112.5H693.7C622.1 1112.5 522.7 1293.9 451.1 1293.9Z"/><path d="M451.1 1293.9C522.7 1293.9 622.1 1112.5 693.7 1112.5H814.8C886.3 1112.5 985.8 523.9 1057.4 523.9H1178.5C1250 523.9 1349.5 1594.8 1421 1594.8H1542.1C1613.7 1594.8 1713.2 367.2 1784.7 367.2H1905.8H2148.4V376.5H1905.8H1784.7C1713.2 376.5 1613.7 1604.1 1542.1 1604.1H1421C1349.5 1604.1 1250 533.2 1178.5 533.2H1057.4C985.8 533.2 886.3 1121.7 814.8 1121.7H693.7C622.1 1121.7 522.7 1303.2 451.1 1303.2Z"/><path d="M451.1 1303.2C522.7 1303.2 622.1 1121.7 693.7 1121.7H814.8C886.3 1121.7 985.8 533.2 1057.4 533.2H1178.5C1250 533.2 1349.5 1609.8 1421 1609.8H1542.1C1613.7 1609.8 1713.2 553.3 1784.7 553.3H1905.8C1977.4 553.3 2076.8 1490.7 2148.4 1490.7V1499.8C2076.8 1499.8 1977.4 562.3 1905.8 562.3H1784.7C1713.2 562.3 1613.7 1618.9 1542.1 1618.9H1421C1349.5 1618.9 1250 542.2 1178.5 542.2H1057.4C985.8 542.2 886.3 1130.8 814.8 1130.8H693.7C622.1 1130.8 522.7 1312.3 451.1 1312.3Z"/><path d="M451.1 1312.3C522.7 1312.3 622.1 1130.8 693.7 1130.8H814.8C886.3 1130.8 985.8 542.2 1057.4 542.2H1178.5C1250 542.2 1349.5 1632.9 1421 1632.9H1542.1C1613.7 1632.9 1713.2 843 1784.7 843H1905.8C1977.4 843 2076.8 656.5 2148.4 656.5V678.2C2076.8 678.2 1977.4 864.7 1905.8 864.7H1784.7C1713.2 864.7 1613.7 1654.5 1542.1 1654.5H1421C1349.5 1654.5 1250 563.9 1178.5 563.9H1057.4C985.8 563.9 886.3 1152.5 814.8 1152.5H693.7C622.1 1152.5 522.7 1333.9 451.1 1333.9Z"/><path d="M451.1 1333.9C522.7 1333.9 622.1 1152.5 693.7 1152.5H814.8C886.3 1152.5 985.8 563.9 1057.4 563.9H1178.5C1250 563.9 1349.5 1661.8 1421 1661.8H1542.1C1613.7 1661.8 1713.2 1062.7 1784.7 1062.7H1905.8C1977.4 1062.7 2076.8 876.1 2148.4 876.1V886C2076.8 886 1977.4 1072.6 1905.8 1072.6H1784.7C1713.2 1072.6 1613.7 1671.7 1542.1 1671.7H1421C1349.5 1671.7 1250 573.8 1178.5 573.8H1057.4C985.8 573.8 886.3 1162.4 814.8 1162.4H693.7C622.1 1162.4 522.7 1343.8 451.1 1343.8Z"/><path d="M451.1 1343.8C522.7 1343.8 622.1 1162.4 693.7 1162.4H814.8C886.3 1162.4 985.8 573.8 1057.4 573.8H1178.5C1250 573.8 1349.5 1686.5 1421 1686.5H1542.1C1613.7 1686.5 1713.2 1422.5 1784.7 1422.5H1905.8C1977.4 1422.5 2076.8 1236 2148.4 1236V1259.4C2076.8 1259.4 1977.4 1446 1905.8 1446H1784.7C1713.2 1446 1613.7 1709.9 1542.1 1709.9H1421C1349.5 1709.9 1250 597.3 1178.5 597.3H1057.4C985.8 597.3 886.3 1185.8 814.8 1185.8H693.7C622.1 1185.8 522.7 1367.3 451.1 1367.3Z"/><path d="M451.1 1367.3C522.7 1367.3 622.1 1185.8 693.7 1185.8H814.8C886.3 1185.8 985.8 597.3 1057.4 597.3H1178.5C1250 597.3 1349.5 1725.2 1421 1725.2H1542.1C1613.7 1725.2 1713.2 1827.7 1784.7 1827.7H1905.8H2148.4V1850.1H1905.8H1784.7C1713.2 1850.1 1613.7 1747.6 1542.1 1747.6H1421C1349.5 1747.6 1250 619.7 1178.5 619.7H1057.4C985.8 619.7 886.3 1208.2 814.8 1208.2H693.7C622.1 1208.2 522.7 1389.7 451.1 1389.7Z"/><path d="M451.1 1389.7C522.7 1389.7 622.1 1208.2 693.7 1208.2H814.8C886.3 1208.2 985.8 619.7 1057.4 619.7H1178.5C1250 619.7 1349.5 1757 1421 1757H1542.1C1613.7 1757 1713.2 2096.9 1784.7 2096.9H1905.8H2148.4V2110.2H1905.8H1784.7C1713.2 2110.2 1613.7 1770.3 1542.1 1770.3H1421C1349.5 1770.3 1250 633 1178.5 633H1057.4C985.8 633 886.3 1221.5 814.8 1221.5H693.7C622.1 1221.5 522.7 1403 451.1 1403Z"/><path d="M451.1 1403C522.7 1403 622.1 1221.5 693.7 1221.5H814.8C886.3 1221.5 985.8 634.5 1057.4 634.5H1178.5C1250 634.5 1349.5 1845.6 1421 1845.6H1542.1C1613.7 1845.6 1713.2 1450.2 1784.7 1450.2H1905.8C1977.4 1450.2 2076.8 1263.6 2148.4 1263.6V1263.9C2076.8 1263.9 1977.4 1450.4 1905.8 1450.4H1784.7C1713.2 1450.4 1613.7 1845.9 1542.1 1845.9H1421C1349.5 1845.9 1250 634.7 1178.5 634.7H1057.4C985.8 634.7 886.3 1221.8 814.8 1221.8H693.7C622.1 1221.8 522.7 1403.2 451.1 1403.2Z"/><path d="M451.1 1403.2C522.7 1403.2 622.1 1221.8 693.7 1221.8H814.8C886.3 1221.8 985.8 1410.7 1057.4 1410.7H1178.5C1250 1410.7 1349.5 293.1 1421 293.1H1542.1C1613.7 293.1 1713.2 424.5 1784.7 424.5H1905.8C1977.4 424.5 2076.8 1361.9 2148.4 1361.9V1362.3C2076.8 1362.3 1977.4 424.8 1905.8 424.8H1784.7C1713.2 424.8 1613.7 293.5 1542.1 293.5H1421C1349.5 293.5 1250 1411.1 1178.5 1411.1H1057.4C985.8 1411.1 886.3 1222.1 814.8 1222.1H693.7C622.1 1222.1 522.7 1403.6 451.1 1403.6Z"/><path d="M451.1 1403.6C522.7 1403.6 622.1 1222.1 693.7 1222.1H814.8C886.3 1222.1 985.8 1411.1 1057.4 1411.1H1178.5C1250 1411.1 1349.5 842.1 1421 842.1H1542.1C1613.7 842.1 1713.2 309.9 1784.7 309.9H1905.8H2148.4V361.4H1905.8H1784.7C1713.2 361.4 1613.7 893.6 1542.1 893.6H1421C1349.5 893.6 1250 1462.5 1178.5 1462.5H1057.4C985.8 1462.5 886.3 1273.6 814.8 1273.6H693.7C622.1 1273.6 522.7 1455 451.1 1455Z"/><path d="M451.1 1455C522.7 1455 622.1 1273.6 693.7 1273.6H814.8C886.3 1273.6 985.8 1462.5 1057.4 1462.5H1178.5C1250 1462.5 1349.5 893.6 1421 893.6H1542.1C1613.7 893.6 1713.2 463.6 1784.7 463.6H1905.8C1977.4 463.6 2076.8 1401 2148.4 1401V1485C2076.8 1485 1977.4 547.5 1905.8 547.5H1784.7C1713.2 547.5 1613.7 977.5 1542.1 977.5H1421C1349.5 977.5 1250 1546.5 1178.5 1546.5H1057.4C985.8 1546.5 886.3 1357.6 814.8 1357.6H693.7C622.1 1357.6 522.7 1539 451.1 1539Z"/><path d="M451.1 1539C522.7 1539 622.1 1357.6 693.7 1357.6H814.8C886.3 1357.6 985.8 1546.5 1057.4 1546.5H1178.5C1250 1546.5 1349.5 978.2 1421 978.2H1542.1C1613.7 978.2 1713.2 703.9 1784.7 703.9H1905.8C1977.4 703.9 2076.8 517.3 2148.4 517.3V642.2C2076.8 642.2 1977.4 828.8 1905.8 828.8H1784.7C1713.2 828.8 1613.7 1103.1 1542.1 1103.1H1421C1349.5 1103.1 1250 1671.4 1178.5 1671.4H1057.4C985.8 1671.4 886.3 1482.5 814.8 1482.5H693.7C622.1 1482.5 522.7 1663.9 451.1 1663.9Z"/><path d="M451.1 1663.9C522.7 1663.9 622.1 1482.5 693.7 1482.5H814.8C886.3 1482.5 985.8 1671.4 1057.4 1671.4H1178.5C1250 1671.4 1349.5 1103.7 1421 1103.7H1542.1C1613.7 1103.7 1713.2 992.5 1784.7 992.5H1905.8C1977.4 992.5 2076.8 806 2148.4 806V869.9C2076.8 869.9 1977.4 1056.4 1905.8 1056.4H1784.7C1713.2 1056.4 1613.7 1167.6 1542.1 1167.6H1421C1349.5 1167.6 1250 1735.4 1178.5 1735.4H1057.4C985.8 1735.4 886.3 1546.4 814.8 1546.4H693.7C622.1 1546.4 522.7 1727.9 451.1 1727.9Z"/><path d="M451.1 1727.9C522.7 1727.9 622.1 1546.4 693.7 1546.4H814.8C886.3 1546.4 985.8 1735.4 1057.4 1735.4H1178.5C1250 1735.4 1349.5 1167.6 1421 1167.6H1542.1C1613.7 1167.6 1713.2 1235.5 1784.7 1235.5H1905.8C1977.4 1235.5 2076.8 1049 2148.4 1049V1220.4C2076.8 1220.4 1977.4 1407 1905.8 1407H1784.7C1713.2 1407 1613.7 1339 1542.1 1339H1421C1349.5 1339 1250 1906.8 1178.5 1906.8H1057.4C985.8 1906.8 886.3 1717.9 814.8 1717.9H693.7C622.1 1717.9 522.7 1899.3 451.1 1899.3Z"/><path d="M451.1 1899.3C522.7 1899.3 622.1 1717.9 693.7 1717.9H814.8C886.3 1717.9 985.8 1906.8 1057.4 1906.8H1178.5C1250 1906.8 1349.5 1339.7 1421 1339.7H1542.1C1613.7 1339.7 1713.2 1652.2 1784.7 1652.2H1905.8H2148.4V1813.5H1905.8H1784.7C1713.2 1813.5 1613.7 1501 1542.1 1501H1421C1349.5 1501 1250 2068.1 1178.5 2068.1H1057.4C985.8 2068.1 886.3 1879.1 814.8 1879.1H693.7C622.1 1879.1 522.7 2060.6 451.1 2060.6Z"/><path d="M451.1 2060.6C522.7 2060.6 622.1 1879.1 693.7 1879.1H814.8C886.3 1879.1 985.8 2068.1 1057.4 2068.1H1178.5C1250 2068.1 1349.5 1501 1421 1501H1542.1C1613.7 1501 1713.2 2000.5 1784.7 2000.5H1905.8H2148.4V2088.1H1905.8H1784.7C1713.2 2088.1 1613.7 1588.6 1542.1 1588.6H1421C1349.5 1588.6 1250 2155.7 1178.5 2155.7H1057.4C985.8 2155.7 886.3 1966.7 814.8 1966.7H693.7C622.1 1966.7 522.7 2148.2 451.1 2148.2Z"/><path d="M451.1 2148.2C522.7 2148.2 622.1 1966.7 693.7 1966.7H814.8C886.3 1966.7 985.8 2155.7 1057.4 2155.7H1178.5C1250 2155.7 1349.5 1774.7 1421 1774.7H1542.1C1613.7 1774.7 1713.2 1852.3 1784.7 1852.3H1905.8H2148.4V1852.6H1905.8H1784.7C1713.2 1852.6 1613.7 1775 1542.1 1775H1421C1349.5 1775 1250 2156 1178.5 2156H1057.4C985.8 2156 886.3 1967 814.8 1967H693.7C622.1 1967 522.7 2148.5 451.1 2148.5Z"/><path d="M451.1 2148.5H693.7H814.8C886.3 2148.5 985.8 634.7 1057.4 634.7H1178.5C1250 634.7 1349.5 327.5 1421 327.5H1542.1C1613.7 327.5 1713.2 630.1 1784.7 630.1H1905.8C1977.4 630.1 2076.8 443.5 2148.4 443.5V444.5C2076.8 444.5 1977.4 631.1 1905.8 631.1H1784.7C1713.2 631.1 1613.7 328.5 1542.1 328.5H1421C1349.5 328.5 1250 635.7 1178.5 635.7H1057.4C985.8 635.7 886.3 2149.5 814.8 2149.5H693.7H451.1Z"/><path d="M451.1 2149.5H693.7H814.8C886.3 2149.5 985.8 635.7 1057.4 635.7H1178.5C1250 635.7 1349.5 383.3 1421 383.3H1542.1C1613.7 383.3 1713.2 1146 1784.7 1146H1905.8C1977.4 1146 2076.8 959.4 2148.4 959.4V960.5C2076.8 960.5 1977.4 1147 1905.8 1147H1784.7C1713.2 1147 1613.7 384.4 1542.1 384.4H1421C1349.5 384.4 1250 636.8 1178.5 636.8H1057.4C985.8 636.8 886.3 2150.5 814.8 2150.5H693.7H451.1Z"/><path d="M451.1 2150.5H693.7H814.8C886.3 2150.5 985.8 636.8 1057.4 636.8H1178.5C1250 636.8 1349.5 421.9 1421 421.9H1542.1C1613.7 421.9 1713.2 1571 1784.7 1571H1905.8H2148.4V1572.1H1905.8H1784.7C1713.2 1572.1 1613.7 423 1542.1 423H1421C1349.5 423 1250 637.8 1178.5 637.8H1057.4C985.8 637.8 886.3 2151.6 814.8 2151.6H693.7H451.1Z"/><path d="M451.1 2151.6H693.7H814.8C886.3 2151.6 985.8 637.8 1057.4 637.8H1178.5C1250 637.8 1349.5 443.5 1421 443.5H1542.1C1613.7 443.5 1713.2 1951.2 1784.7 1951.2H1905.8H2148.4V1951.8H1905.8H1784.7C1713.2 1951.8 1613.7 444.1 1542.1 444.1H1421C1349.5 444.1 1250 638.4 1178.5 638.4H1057.4C985.8 638.4 886.3 2152.2 814.8 2152.2H693.7H451.1Z"/><path d="M451.1 2152.2H693.7H814.8C886.3 2152.2 985.8 639.2 1057.4 639.2H1178.5C1250 639.2 1349.5 519 1421 519H1542.1C1613.7 519 1713.2 632.1 1784.7 632.1H1905.8C1977.4 632.1 2076.8 445.5 2148.4 445.5V445.5C2076.8 445.5 1977.4 632.1 1905.8 632.1H1784.7C1713.2 632.1 1613.7 519 1542.1 519H1421C1349.5 519 1250 639.2 1178.5 639.2H1057.4C985.8 639.2 886.3 2152.2 814.8 2152.2H693.7H451.1Z"/><path d="M451.1 2152.2H693.7H814.8C886.3 2152.2 985.8 639.2 1057.4 639.2H1178.5C1250 639.2 1349.5 978.2 1421 978.2H1542.1C1613.7 978.2 1713.2 1652.2 1784.7 1652.2H1905.8H2148.4V1652.2H1905.8H1784.7C1713.2 1652.2 1613.7 978.2 1542.1 978.2H1421C1349.5 978.2 1250 639.2 1178.5 639.2H1057.4C985.8 639.2 886.3 2152.2 814.8 2152.2H693.7H451.1Z"/><path d="M451.1 2152.2H693.7H814.8C886.3 2152.2 985.8 639.2 1057.4 639.2H1178.5C1250 639.2 1349.5 1654.5 1421 1654.5H1542.1C1613.7 1654.5 1713.2 864.7 1784.7 864.7H1905.8C1977.4 864.7 2076.8 678.2 2148.4 678.2V679.2C2076.8 679.2 1977.4 865.7 1905.8 865.7H1784.7C1713.2 865.7 1613.7 1655.5 1542.1 1655.5H1421C1349.5 1655.5 1250 640.2 1178.5 640.2H1057.4C985.8 640.2 886.3 2153.2 814.8 2153.2H693.7H451.1Z"/><path d="M451.1 2153.2H693.7H814.8C886.3 2153.2 985.8 640.2 1057.4 640.2H1178.5C1250 640.2 1349.5 1709.9 1421 1709.9H1542.1C1613.7 1709.9 1713.2 1446 1784.7 1446H1905.8C1977.4 1446 2076.8 1259.4 2148.4 1259.4V1260.5C2076.8 1260.5 1977.4 1447.1 1905.8 1447.1H1784.7C1713.2 1447.1 1613.7 1711 1542.1 1711H1421C1349.5 1711 1250 641.3 1178.5 641.3H1057.4C985.8 641.3 886.3 2154.3 814.8 2154.3H693.7H451.1Z"/><path d="M451.1 2154.3H693.7H814.8C886.3 2154.3 985.8 641.3 1057.4 641.3H1178.5C1250 641.3 1349.5 1747.6 1421 1747.6H1542.1C1613.7 1747.6 1713.2 1850.1 1784.7 1850.1H1905.8H2148.4V1851.1H1905.8H1784.7C1713.2 1851.1 1613.7 1748.6 1542.1 1748.6H1421C1349.5 1748.6 1250 642.4 1178.5 642.4H1057.4C985.8 642.4 886.3 2155.4 814.8 2155.4H693.7H451.1Z"/><path d="M451.1 2155.4H693.7H814.8C886.3 2155.4 985.8 642.4 1057.4 642.4H1178.5C1250 642.4 1349.5 1770.3 1421 1770.3H1542.1C1613.7 1770.3 1713.2 2110.2 1784.7 2110.2H1905.8H2148.4V2110.8H1905.8H1784.7C1713.2 2110.8 1613.7 1771 1542.1 1771H1421C1349.5 1771 1250 643 1178.5 643H1057.4C985.8 643 886.3 2156 814.8 2156H693.7H451.1Z"/><path d="M451.1 2156H693.7H814.8C886.3 2156 985.8 643.7 1057.4 643.7H1178.5C1250 643.7 1349.5 1776.2 1421 1776.2H1542.1C1613.7 1776.2 1713.2 562.6 1784.7 562.6H1905.8C1977.4 562.6 2076.8 1500 2148.4 1500V1500C2076.8 1500 1977.4 562.6 1905.8 562.6H1784.7C1713.2 562.6 1613.7 1776.2 1542.1 1776.2H1421C1349.5 1776.2 1250 643.7 1178.5 643.7H1057.4C985.8 643.7 886.3 2156 814.8 2156H693.7H451.1Z"/><path d="M451.1 2156H693.7H814.8H1057.4H1178.5C1250 2156 1349.5 448 1421 448H1542.1C1613.7 448 1713.2 1573.8 1784.7 1573.8H1905.8H2148.4V1573.8H1905.8H1784.7C1713.2 1573.8 1613.7 448 1542.1 448H1421C1349.5 448 1250 2156 1178.5 2156H1057.4H814.8H693.7H451.1Z"/><path d="M451.1 2156H693.7H814.8H1057.4H1178.5C1250 2156 1349.5 1103.1 1421 1103.1H1542.1C1613.7 1103.1 1713.2 828.8 1784.7 828.8H1905.8C1977.4 828.8 2076.8 642.2 2148.4 642.2V642.8C2076.8 642.8 1977.4 829.3 1905.8 829.3H1784.7C1713.2 829.3 1613.7 1103.7 1542.1 1103.7H1421C1349.5 1103.7 1250 2156.5 1178.5 2156.5H1057.4H814.8H693.7H451.1Z"/><path d="M451.1 2156.5H693.7H814.8H1057.4H1178.5C1250 2156.5 1349.5 1339 1421 1339H1542.1C1613.7 1339 1713.2 1407 1784.7 1407H1905.8C1977.4 1407 2076.8 1220.4 2148.4 1220.4V1221.1C2076.8 1221.1 1977.4 1407.7 1905.8 1407.7H1784.7C1713.2 1407.7 1613.7 1339.7 1542.1 1339.7H1421C1349.5 1339.7 1250 2157.2 1178.5 2157.2H1057.4H814.8H693.7H451.1Z"/><path d="M451.1 2157.2H693.7H814.8H1057.4H1178.5C1250 2157.2 1349.5 1588.6 1421 1588.6H1542.1C1613.7 1588.6 1713.2 2088.1 1784.7 2088.1H1905.8H2148.4V2088.5H1905.8H1784.7C1713.2 2088.5 1613.7 1589 1542.1 1589H1421C1349.5 1589 1250 2157.6 1178.5 2157.6H1057.4H814.8H693.7H451.1Z"/><path d="M451.1 2157.6H693.7H814.8H1057.4H1178.5C1250 2157.6 1349.5 1774.7 1421 1774.7H1542.1C1613.7 1774.7 1713.2 1448.5 1784.7 1448.5H1905.8C1977.4 1448.5 2076.8 1261.9 2148.4 1261.9V1261.9C2076.8 1261.9 1977.4 1448.5 1905.8 1448.5H1784.7C1713.2 1448.5 1613.7 1774.7 1542.1 1774.7H1421C1349.5 1774.7 1250 2157.6 1178.5 2157.6H1057.4H814.8H693.7H451.1Z"/></g>
<rect class="s" x="330" y="265.3" width="121.1" height="783.9"/><text class="sl" transform="translate(401.9 657.3) rotate(-90)">ALARM</text>
<rect class="s" x="330" y="1049.2" width="121.1" height="1108.4"/><text class="sl" transform="translate(401.9 1603.4) rotate(-90)">EVENT</text>
<rect class="s" x="693.7" y="265.3" width="121.1" height="355.7"/><text class="sl" transform="translate(765.6 443.1) rotate(-90)">INSTRUMENT</text>
<rect class="s" x="693.7" y="621" width="121.1" height="144"/><text class="sl" transform="translate(765.6 692.9) rotate(-90)">OTHER</text>
<rect class="s" x="693.7" y="764.9" width="121.1" height="1202.1"/><text class="sl" transform="translate(765.6 1366) rotate(-90)">PROCESS</text>
<rect class="s" x="693.7" y="1967" width="121.1" height="190.6"/><text class="sl" transform="translate(765.6 2062.3) rotate(-90)">SYSTEM</text>
<rect class="s" x="1057.4" y="265.3" width="121.1" height="378.4"/><text class="sl" transform="translate(1129.3 454.5) rotate(-90)">OTHER</text>
<rect class="s" x="1057.4" y="643.7" width="121.1" height="288.8"/><text class="sl" transform="translate(1129.3 788.1) rotate(-90)">ADVISORY</text>
<rect class="s" x="1057.4" y="932.5" width="121.1" height="478.2"/><text class="sl" transform="translate(1129.3 1171.6) rotate(-90)">CRITICAL</text>
<rect class="s" x="1057.4" y="1410.7" width="121.1" height="746.9"/><text class="sl" transform="translate(1129.3 1784.2) rotate(-90)">INFO</text>
<rect class="s" x="1421" y="265.3" width="121.1" height="182.7"/><text class="sl" transform="translate(1493 356.6) rotate(-90)">ACT/ACK</text>
<rect class="s" x="1421" y="448" width="121.1" height="394"/><text class="sl" transform="translate(1493 645) rotate(-90)">ACT/UNACK</text>
<rect class="s" x="1421" y="842" width="121.1" height="747"/><text class="sl" transform="translate(1493 1215.5) rotate(-90)">ACTIVE</text>
<rect class="s" x="1421" y="1589" width="121.1" height="186"/><text class="sl" transform="translate(1493 1682) rotate(-90)">INACT/ACK</text>
<rect class="s" x="1421" y="1775" width="121.1" height="382.6"/><text class="sl" transform="translate(1493 1966.3) rotate(-90)">INACT/UNACK</text>
<rect class="s" x="1784.7" y="265.3" width="121.1" height="330.7"/><text class="sl" transform="translate(1856.7 430.6) rotate(-90)">MODE 0</text>
<rect class="s" x="1784.7" y="596" width="121.1" height="1561.6"/><text class="sl" transform="translate(1856.7 1376.8) rotate(-90)">MODE 2</text>
<rect class="s" x="2148.4" y="265.3" width="121.1" height="485.7"/><text class="sl" transform="translate(2220.4 508.1) rotate(-90)">AFTERNOON</text>
<rect class="s" x="2148.4" y="751" width="121.1" height="170.7"/><text class="sl" transform="translate(2220.4 836.4) rotate(-90)">EVENING</text>
<rect class="s" x="2148.4" y="921.7" width="121.1" height="425.2"/><text class="sl" transform="translate(2220.4 1134.3) rotate(-90)">LATE NIGHT</text>
<rect class="s" x="2148.4" y="1346.9" width="121.1" height="583.8"/><text class="sl" transform="translate(2220.4 1638.8) rotate(-90)">MORNING</text>
<rect class="s" x="2148.4" y="1930.7" width="121.1" height="226.9"/><text class="sl" transform="translate(2220.4 2044.2) rotate(-90)">NIGHT</text>
<path d="M233.1 170V2252.5H2367.2" fill="none" stroke="#000" stroke-width="5.6" stroke-linecap="butt" stroke-linejoin="miter"/>
<line class="tk" x1="220.2" x2="230.4" y1="2157.6" y2="2157.6"/><text transform="translate(183.8 2175.2) scale(1.0737 1)" font-size="51.5" fill="#4D4D4D">0</text>
<line class="tk" x1="220.2" x2="230.4" y1="1689.9" y2="1689.9"/><text transform="translate(50.6 1707.5) scale(1.0407 1)" font-size="51.5" fill="#4D4D4D">250000</text>
<line class="tk" x1="220.2" x2="230.4" y1="1222.2" y2="1222.2"/><text transform="translate(52.3 1240.0) scale(1.0298 1)" font-size="51.5" fill="#4D4D4D">500000</text>
<line class="tk" x1="220.2" x2="230.4" y1="754.6" y2="754.6"/><text transform="translate(51.3 772.2) scale(1.0360 1)" font-size="51.5" fill="#4D4D4D">750000</text>
<line class="tk" x1="220.2" x2="230.4" y1="286.9" y2="286.9"/><text transform="translate(25.5 304.5) scale(1.0322 1)" font-size="51.5" fill="#4D4D4D">1000000</text>
<line class="tk" x1="390.6" x2="390.6" y1="2255.2" y2="2265.2"/><text transform="translate(335.8 2312.5) scale(1.0312 1)" font-size="51.5" fill="#4D4D4D">Type</text>
<line class="tk" x1="754.2" x2="754.2" y1="2255.2" y2="2265.2"/><text transform="translate(649.9 2312.5) scale(1.0171 1)" font-size="51.5" fill="#4D4D4D">Category</text>
<line class="tk" x1="1117.9" x2="1117.9" y1="2255.2" y2="2265.2"/><text transform="translate(1057.3 2312.5) scale(0.9973 1)" font-size="51.5" fill="#4D4D4D">Level</text>
<line class="tk" x1="1481.6" x2="1481.6" y1="2255.2" y2="2265.2"/><text transform="translate(1424.4 2312.5) scale(1.0269 1)" font-size="51.5" fill="#4D4D4D">State</text>
<line class="tk" x1="1845.3" x2="1845.3" y1="2255.2" y2="2265.2"/><text transform="translate(1722.2 2312.5) scale(1.0088 1)" font-size="51.5" fill="#4D4D4D">IsArchived</text>
<line class="tk" x1="2209" x2="2209" y1="2255.2" y2="2265.2"/><text transform="translate(2026.9 2312.5) scale(1.0064 1)" font-size="51.5" fill="#4D4D4D">part_of_the_day</text>
<text transform="translate(956.8 69.9) scale(1.0194 1)" font-size="52" fill="#000">Type</text>
<rect x="1096" y="14" width="76" height="75.6" fill="#E84E23" fill-opacity="0.6"/><text transform="translate(1201.2 65.4) scale(1.0144 1)" font-size="42.2" fill="#000">ALARM</text>
<rect x="1391" y="14" width="76.5" height="75.6" fill="#5880C1" fill-opacity="0.6"/><text transform="translate(1497.5 65.4) scale(1.0027 1)" font-size="42.2" fill="#000">EVENT</text>
</svg></body></html>
